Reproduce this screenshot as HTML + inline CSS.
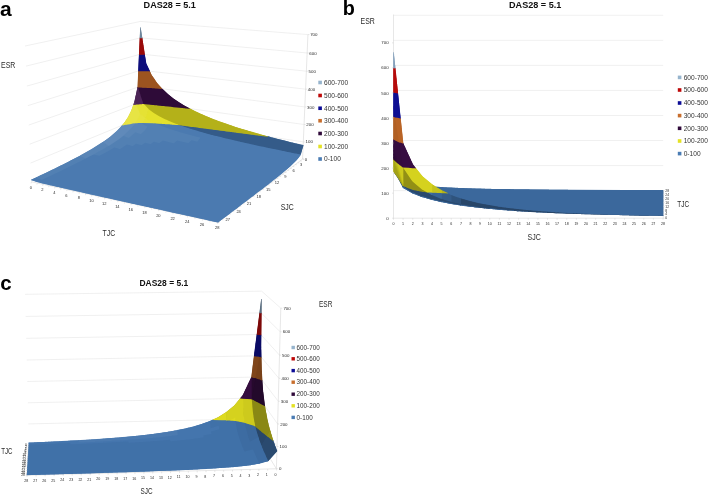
<!DOCTYPE html>
<html><head><meta charset="utf-8"><title>DAS28 = 5.1</title>
<style>html,body{margin:0;padding:0;background:#fff}svg{display:block;font-family:"Liberation Sans",sans-serif}</style>
</head><body><svg width="709" height="495" viewBox="0 0 709 495">
<rect width="709" height="495" fill="#fff"/>
<line x1="30.54" y1="163.08" x2="141.34" y2="117.40" stroke="#e0e0e0" stroke-width="0.5" />
<line x1="141.34" y1="117.40" x2="303.32" y2="141.89" stroke="#e0e0e0" stroke-width="0.5" />
<line x1="29.64" y1="144.19" x2="141.17" y2="101.82" stroke="#e0e0e0" stroke-width="0.5" />
<line x1="141.17" y1="101.82" x2="304.07" y2="124.52" stroke="#e0e0e0" stroke-width="0.5" />
<line x1="28.73" y1="125.06" x2="141.01" y2="86.07" stroke="#e0e0e0" stroke-width="0.5" />
<line x1="141.01" y1="86.07" x2="304.83" y2="106.95" stroke="#e0e0e0" stroke-width="0.5" />
<line x1="27.81" y1="105.68" x2="140.84" y2="70.16" stroke="#e0e0e0" stroke-width="0.5" />
<line x1="140.84" y1="70.16" x2="305.59" y2="89.17" stroke="#e0e0e0" stroke-width="0.5" />
<line x1="26.87" y1="86.05" x2="140.68" y2="54.09" stroke="#e0e0e0" stroke-width="0.5" />
<line x1="140.68" y1="54.09" x2="306.37" y2="71.19" stroke="#e0e0e0" stroke-width="0.5" />
<line x1="25.93" y1="66.17" x2="140.51" y2="37.84" stroke="#e0e0e0" stroke-width="0.5" />
<line x1="140.51" y1="37.84" x2="307.16" y2="52.99" stroke="#e0e0e0" stroke-width="0.5" />
<line x1="24.97" y1="46.03" x2="140.33" y2="21.43" stroke="#e0e0e0" stroke-width="0.5" />
<line x1="140.33" y1="21.43" x2="307.95" y2="34.58" stroke="#e0e0e0" stroke-width="0.5" />
<line x1="302.57" y1="159.07" x2="307.95" y2="34.58" stroke="#cfcfcf" stroke-width="0.5" />
<line x1="31.43" y1="181.74" x2="217.88" y2="222.42" stroke="#cfcfcf" stroke-width="0.5" />
<line x1="217.88" y1="222.42" x2="302.57" y2="159.07" stroke="#cfcfcf" stroke-width="0.5" />
<line x1="31.43" y1="181.74" x2="31.13" y2="183.34" stroke="#cfcfcf" stroke-width="0.5" />
<line x1="37.23" y1="183.00" x2="36.93" y2="184.60" stroke="#cfcfcf" stroke-width="0.5" />
<line x1="43.08" y1="184.28" x2="42.78" y2="185.88" stroke="#cfcfcf" stroke-width="0.5" />
<line x1="48.99" y1="185.57" x2="48.69" y2="187.17" stroke="#cfcfcf" stroke-width="0.5" />
<line x1="54.95" y1="186.87" x2="54.65" y2="188.47" stroke="#cfcfcf" stroke-width="0.5" />
<line x1="60.98" y1="188.19" x2="60.68" y2="189.79" stroke="#cfcfcf" stroke-width="0.5" />
<line x1="67.06" y1="189.51" x2="66.76" y2="191.11" stroke="#cfcfcf" stroke-width="0.5" />
<line x1="73.21" y1="190.85" x2="72.91" y2="192.45" stroke="#cfcfcf" stroke-width="0.5" />
<line x1="79.41" y1="192.21" x2="79.11" y2="193.81" stroke="#cfcfcf" stroke-width="0.5" />
<line x1="85.68" y1="193.58" x2="85.38" y2="195.18" stroke="#cfcfcf" stroke-width="0.5" />
<line x1="92.01" y1="194.96" x2="91.71" y2="196.56" stroke="#cfcfcf" stroke-width="0.5" />
<line x1="98.40" y1="196.35" x2="98.10" y2="197.95" stroke="#cfcfcf" stroke-width="0.5" />
<line x1="104.86" y1="197.76" x2="104.56" y2="199.36" stroke="#cfcfcf" stroke-width="0.5" />
<line x1="111.38" y1="199.19" x2="111.08" y2="200.79" stroke="#cfcfcf" stroke-width="0.5" />
<line x1="117.97" y1="200.62" x2="117.67" y2="202.22" stroke="#cfcfcf" stroke-width="0.5" />
<line x1="124.63" y1="202.08" x2="124.33" y2="203.68" stroke="#cfcfcf" stroke-width="0.5" />
<line x1="131.36" y1="203.55" x2="131.06" y2="205.15" stroke="#cfcfcf" stroke-width="0.5" />
<line x1="138.16" y1="205.03" x2="137.86" y2="206.63" stroke="#cfcfcf" stroke-width="0.5" />
<line x1="145.03" y1="206.53" x2="144.73" y2="208.13" stroke="#cfcfcf" stroke-width="0.5" />
<line x1="151.97" y1="208.04" x2="151.67" y2="209.64" stroke="#cfcfcf" stroke-width="0.5" />
<line x1="158.98" y1="209.57" x2="158.68" y2="211.17" stroke="#cfcfcf" stroke-width="0.5" />
<line x1="166.07" y1="211.12" x2="165.77" y2="212.72" stroke="#cfcfcf" stroke-width="0.5" />
<line x1="173.23" y1="212.68" x2="172.93" y2="214.28" stroke="#cfcfcf" stroke-width="0.5" />
<line x1="180.47" y1="214.26" x2="180.17" y2="215.86" stroke="#cfcfcf" stroke-width="0.5" />
<line x1="187.79" y1="215.86" x2="187.49" y2="217.46" stroke="#cfcfcf" stroke-width="0.5" />
<line x1="195.19" y1="217.47" x2="194.89" y2="219.07" stroke="#cfcfcf" stroke-width="0.5" />
<line x1="202.67" y1="219.11" x2="202.37" y2="220.71" stroke="#cfcfcf" stroke-width="0.5" />
<line x1="210.23" y1="220.76" x2="209.93" y2="222.36" stroke="#cfcfcf" stroke-width="0.5" />
<line x1="217.88" y1="222.42" x2="217.58" y2="224.02" stroke="#cfcfcf" stroke-width="0.5" />
<line x1="302.57" y1="159.07" x2="304.17" y2="159.27" stroke="#cfcfcf" stroke-width="0.5" />
<line x1="300.16" y1="160.87" x2="301.76" y2="161.07" stroke="#cfcfcf" stroke-width="0.5" />
<line x1="297.71" y1="162.70" x2="299.31" y2="162.90" stroke="#cfcfcf" stroke-width="0.5" />
<line x1="295.23" y1="164.56" x2="296.83" y2="164.76" stroke="#cfcfcf" stroke-width="0.5" />
<line x1="292.70" y1="166.45" x2="294.30" y2="166.65" stroke="#cfcfcf" stroke-width="0.5" />
<line x1="290.14" y1="168.37" x2="291.74" y2="168.57" stroke="#cfcfcf" stroke-width="0.5" />
<line x1="287.53" y1="170.32" x2="289.13" y2="170.52" stroke="#cfcfcf" stroke-width="0.5" />
<line x1="284.89" y1="172.30" x2="286.49" y2="172.50" stroke="#cfcfcf" stroke-width="0.5" />
<line x1="282.20" y1="174.31" x2="283.80" y2="174.51" stroke="#cfcfcf" stroke-width="0.5" />
<line x1="279.47" y1="176.35" x2="281.07" y2="176.55" stroke="#cfcfcf" stroke-width="0.5" />
<line x1="276.70" y1="178.42" x2="278.30" y2="178.62" stroke="#cfcfcf" stroke-width="0.5" />
<line x1="273.88" y1="180.53" x2="275.48" y2="180.73" stroke="#cfcfcf" stroke-width="0.5" />
<line x1="271.02" y1="182.67" x2="272.62" y2="182.87" stroke="#cfcfcf" stroke-width="0.5" />
<line x1="268.11" y1="184.85" x2="269.71" y2="185.05" stroke="#cfcfcf" stroke-width="0.5" />
<line x1="265.15" y1="187.06" x2="266.75" y2="187.26" stroke="#cfcfcf" stroke-width="0.5" />
<line x1="262.14" y1="189.31" x2="263.74" y2="189.51" stroke="#cfcfcf" stroke-width="0.5" />
<line x1="259.08" y1="191.60" x2="260.68" y2="191.80" stroke="#cfcfcf" stroke-width="0.5" />
<line x1="255.97" y1="193.93" x2="257.57" y2="194.13" stroke="#cfcfcf" stroke-width="0.5" />
<line x1="252.80" y1="196.30" x2="254.40" y2="196.50" stroke="#cfcfcf" stroke-width="0.5" />
<line x1="249.58" y1="198.71" x2="251.18" y2="198.91" stroke="#cfcfcf" stroke-width="0.5" />
<line x1="246.30" y1="201.16" x2="247.90" y2="201.36" stroke="#cfcfcf" stroke-width="0.5" />
<line x1="242.97" y1="203.65" x2="244.57" y2="203.85" stroke="#cfcfcf" stroke-width="0.5" />
<line x1="239.58" y1="206.19" x2="241.18" y2="206.39" stroke="#cfcfcf" stroke-width="0.5" />
<line x1="236.12" y1="208.78" x2="237.72" y2="208.98" stroke="#cfcfcf" stroke-width="0.5" />
<line x1="232.61" y1="211.41" x2="234.21" y2="211.61" stroke="#cfcfcf" stroke-width="0.5" />
<line x1="229.02" y1="214.09" x2="230.62" y2="214.29" stroke="#cfcfcf" stroke-width="0.5" />
<line x1="225.38" y1="216.81" x2="226.98" y2="217.01" stroke="#cfcfcf" stroke-width="0.5" />
<line x1="221.66" y1="219.59" x2="223.26" y2="219.79" stroke="#cfcfcf" stroke-width="0.5" />
<line x1="217.88" y1="222.42" x2="219.48" y2="222.62" stroke="#cfcfcf" stroke-width="0.5" />
<path fill="#4b7ab0" fill-rule="evenodd" d="M31.19 180.06L32.69 180.44L37.06 181.94L39.94 182.56L40.44 182.81L43.44 183.56L43.94 183.56L45.56 184.06L46.06 184.06L50.94 185.31L51.44 185.31L56.94 186.69L58.56 186.94L61.31 187.69L61.81 187.69L62.44 187.94L62.94 187.94L63.56 188.19L66.31 188.69L67.44 189.06L67.94 189.06L68.56 189.31L69.06 189.31L69.69 189.56L70.19 189.56L70.81 189.81L71.31 189.81L71.94 190.06L72.44 190.06L73.06 190.31L73.56 190.31L74.19 190.56L74.69 190.56L75.31 190.81L75.81 190.81L76.44 191.06L79.19 191.56L85.56 193.19L86.06 193.19L86.69 193.44L87.19 193.44L91.19 194.44L92.31 194.56L92.94 194.81L94.69 195.06L95.31 195.31L97.06 195.56L103.06 197.06L103.56 197.06L104.69 197.44L109.94 198.44L110.56 198.69L111.06 198.69L115.56 199.81L116.06 199.81L116.69 200.06L117.19 200.06L117.81 200.31L118.31 200.31L118.94 200.56L119.44 200.56L120.06 200.81L120.56 200.81L121.19 201.06L123.94 201.56L125.06 201.94L127.81 202.44L128.94 202.81L129.44 202.81L133.44 203.81L134.56 203.94L135.19 204.19L135.69 204.19L137.44 204.69L141.44 205.44L142.06 205.69L145.44 206.31L147.19 206.81L148.31 206.94L151.19 207.69L151.69 207.69L154.69 208.44L155.81 208.56L156.44 208.81L157.56 208.94L158.19 209.19L160.94 209.69L162.06 210.06L162.56 210.06L163.69 210.44L165.31 210.69L166.44 211.06L168.06 211.31L173.06 212.56L173.56 212.56L175.44 213.06L180.81 214.06L181.44 214.31L181.94 214.31L182.56 214.56L183.06 214.56L187.06 215.56L188.19 215.69L188.81 215.94L189.31 215.94L189.94 216.19L190.44 216.19L194.44 217.19L195.56 217.31L197.31 217.81L197.81 217.81L199.06 218.19L201.31 218.56L201.94 218.81L202.44 218.81L203.06 219.06L203.56 219.06L210.06 220.69L211.19 220.81L211.81 221.06L212.31 221.06L212.44 221.19L212.94 221.19L214.19 221.56L214.69 221.56L214.81 221.69L215.31 221.69L215.44 221.81L218.06 222.31L221.06 219.94L229.56 213.69L232.44 211.31L236.69 208.31L242.81 203.44L246.81 200.56L250.44 197.69L252.81 196.06L257.94 191.94L262.19 188.94L265.06 186.56L268.19 184.31L272.69 180.56L280.81 174.31L290.06 166.44L297.44 159.06L300.44 155.06L301.69 151.19L301.69 150.81L302.56 148.19L302.81 146.94L303.19 146.06L303.31 145.19L300.69 144.69L299.56 144.31L299.06 144.31L297.94 143.94L297.44 143.94L296.31 143.56L295.81 143.56L292.06 142.56L291.56 142.56L283.69 140.44L283.19 140.44L281.56 139.94L281.06 139.94L279.44 139.44L278.94 139.44L276.94 138.94L276.44 138.69L271.81 137.56L268.69 136.56L267.31 136.44L266.56 136.19L265.19 136.19L265.06 136.06L263.31 135.94L263.19 135.81L260.56 135.56L260.44 135.44L259.06 135.44L258.19 135.19L255.56 134.94L255.44 134.81L254.69 134.81L253.69 134.56L251.56 134.44L251.44 134.31L248.81 134.06L247.81 133.81L246.56 133.81L246.44 133.69L245.69 133.69L245.56 133.56L244.81 133.56L244.69 133.44L243.94 133.44L243.81 133.31L243.06 133.31L242.94 133.19L242.19 133.19L241.19 132.94L238.19 132.69L238.06 132.56L235.31 132.31L235.19 132.19L234.19 132.19L234.06 132.06L233.31 132.06L233.19 131.94L230.69 131.69L230.56 131.56L226.06 131.19L225.94 131.06L225.19 131.06L224.94 130.81L224.06 130.81L223.94 130.69L223.06 130.69L222.94 130.56L222.06 130.56L221.94 130.44L220.81 130.44L220.69 130.31L219.44 130.31L219.31 130.19L216.06 129.81L215.94 129.69L213.81 129.56L212.19 129.19L208.19 128.81L208.06 128.69L207.44 128.69L205.81 128.31L204.19 128.31L202.56 127.94L199.69 127.69L198.19 127.31L197.19 127.31L197.06 127.19L194.44 126.94L193.44 126.69L191.69 126.69L191.56 126.56L190.81 126.56L190.69 126.44L189.94 126.44L189.81 126.31L189.06 126.31L188.94 126.19L182.94 125.44L182.06 125.19L180.94 125.19L180.81 125.06L177.81 124.81L177.69 124.69L175.69 124.69L175.56 124.56L174.19 124.56L174.06 124.44L170.69 124.31L170.56 124.19L168.81 124.06L168.69 123.94L165.56 123.94L165.44 123.81L160.81 123.56L160.69 123.44L159.06 123.44L158.94 123.31L157.31 123.31L157.19 123.19L154.06 123.06L153.94 122.94L137.31 122.81L137.19 122.94L133.94 123.06L133.81 123.19L133.06 123.19L132.94 123.31L130.94 123.56L129.69 123.94L127.56 124.19L126.81 124.44L125.06 124.56L124.94 124.69L122.31 125.19L120.19 127.69L117.06 130.94L110.31 136.81L104.19 141.31L92.56 148.69L80.31 155.69L70.69 160.56L68.31 161.94L61.06 165.56L60.81 165.56L53.31 169.44L53.06 169.44L51.19 170.44L50.94 170.44L44.69 173.56L44.44 173.56L43.06 174.31L41.19 175.06L35.19 178.06L34.94 178.06L33.56 178.81L31.19 179.81Z"/>
<path fill="#b4b119" fill-rule="evenodd" d="M122.44 125.06L122.44 125.31L125.31 124.69L126.31 124.69L127.81 124.31L129.94 124.06L132.44 123.44L135.06 123.19L135.19 123.06L137.44 123.06L137.56 122.94L153.69 123.06L153.81 123.19L155.56 123.19L155.69 123.31L156.94 123.31L157.06 123.44L162.19 123.69L162.31 123.81L163.69 123.81L163.81 123.94L165.19 123.94L165.31 124.06L168.44 124.06L168.56 124.19L169.44 124.19L170.44 124.44L173.81 124.56L173.94 124.69L175.31 124.69L175.44 124.81L177.44 124.81L177.56 124.94L178.69 124.94L178.81 125.06L180.56 125.19L180.69 125.31L181.81 125.31L182.69 125.56L183.44 125.56L183.56 125.69L184.31 125.69L185.19 125.94L186.94 126.06L187.06 126.19L187.81 126.19L187.94 126.31L188.69 126.31L188.81 126.44L189.56 126.44L189.69 126.56L190.44 126.56L191.44 126.81L193.19 126.81L193.31 126.94L195.06 127.06L195.19 127.19L195.94 127.19L196.94 127.44L197.94 127.44L199.44 127.81L202.31 128.06L203.94 128.44L205.56 128.44L205.69 128.56L206.31 128.56L207.94 128.94L211.94 129.31L213.56 129.69L215.69 129.81L215.81 129.94L218.31 130.19L219.19 130.44L220.44 130.44L220.56 130.56L221.69 130.56L221.81 130.69L224.69 130.94L224.94 131.19L225.69 131.19L225.81 131.31L230.31 131.69L230.44 131.81L231.31 131.81L231.44 131.94L232.19 131.94L232.31 132.06L233.81 132.19L233.94 132.31L234.94 132.31L235.06 132.44L236.06 132.44L236.19 132.56L236.94 132.56L237.94 132.81L240.94 133.06L241.06 133.19L241.81 133.19L241.94 133.31L242.69 133.31L242.81 133.44L243.56 133.44L243.69 133.56L244.44 133.56L244.56 133.69L245.31 133.69L246.31 133.94L247.56 133.94L247.69 134.06L249.44 134.19L249.56 134.31L250.31 134.31L251.31 134.56L252.44 134.56L252.56 134.69L253.44 134.69L253.56 134.81L254.31 134.81L255.31 135.06L257.94 135.31L258.81 135.56L260.19 135.56L260.31 135.69L261.19 135.69L261.31 135.81L263.94 136.06L264.94 136.31L266.31 136.31L267.06 136.56L267.81 136.56L267.81 136.31L265.06 135.81L264.56 135.56L264.19 135.56L263.69 135.31L259.81 134.31L258.94 133.94L256.81 133.44L255.94 133.06L253.81 132.56L252.94 132.19L250.81 131.69L249.94 131.31L247.81 130.81L246.94 130.44L244.81 129.94L243.94 129.56L241.81 129.06L240.56 128.56L240.19 128.56L238.56 127.94L238.19 127.94L232.44 126.06L232.06 125.81L228.06 124.56L227.69 124.31L217.69 120.94L215.44 119.94L214.81 119.81L210.44 118.06L208.31 117.06L206.81 116.56L201.44 114.19L201.19 114.19L196.31 111.81L196.06 111.81L189.56 108.44L188.19 108.44L188.06 108.31L186.94 108.31L186.81 108.19L184.31 108.06L182.81 107.69L173.81 106.94L173.69 106.81L170.94 106.56L170.81 106.44L169.69 106.44L169.56 106.31L168.69 106.31L168.56 106.19L167.44 106.19L167.31 106.06L166.19 106.06L166.06 105.94L164.94 105.94L164.81 105.81L163.06 105.81L162.94 105.69L161.81 105.69L161.69 105.56L160.44 105.56L160.31 105.44L158.44 105.31L158.31 105.19L156.56 105.06L156.44 104.94L153.31 104.81L153.19 104.69L152.19 104.69L152.06 104.56L151.19 104.56L151.06 104.44L148.31 104.31L148.19 104.19L144.56 103.94L144.44 103.81L143.44 103.81L143.31 103.69L142.94 103.81L141.69 103.81L141.56 103.94L140.44 103.94L140.31 104.06L139.06 104.06L138.94 104.19L135.69 104.31L134.69 104.56L133.69 104.56L133.44 104.81L131.31 110.69L128.06 117.19L124.69 122.31Z"/>
<path fill="#2e0b38" fill-rule="evenodd" d="M137.56 87.31L137.19 89.44L136.81 90.69L136.81 91.19L136.56 91.81L136.44 92.94L136.19 93.56L136.06 94.69L135.56 96.44L135.44 97.56L135.19 98.19L135.06 99.31L134.81 99.94L134.69 101.06L133.56 104.44L133.56 104.81L135.81 104.56L135.94 104.44L139.19 104.31L139.31 104.19L140.56 104.19L140.69 104.06L141.81 104.06L141.94 103.94L144.19 103.94L144.31 104.06L145.44 104.06L145.56 104.19L146.69 104.19L146.81 104.31L147.94 104.31L148.06 104.44L150.81 104.56L150.94 104.69L152.94 104.81L153.06 104.94L156.19 105.06L156.31 105.19L157.19 105.19L157.31 105.31L160.06 105.56L160.19 105.69L161.44 105.69L161.56 105.81L162.69 105.81L162.81 105.94L164.56 105.94L164.69 106.06L168.31 106.31L168.44 106.44L171.69 106.69L171.81 106.81L172.56 106.81L173.56 107.06L182.56 107.81L184.06 108.19L186.56 108.31L186.69 108.44L187.81 108.44L187.94 108.56L189.44 108.69L189.44 108.44L183.94 105.44L179.06 102.44L173.31 98.56L168.06 94.31L163.31 89.81L161.81 88.56L158.81 88.44L158.69 88.31L156.44 88.31L156.31 88.19L152.31 87.94L152.19 87.81L150.44 87.81L150.31 87.69L147.31 87.69L147.19 87.56L145.94 87.56L145.81 87.44L142.56 87.44L142.44 87.31L140.31 87.31L140.19 87.19L137.69 87.19Z"/>
<path fill="#9c5420" fill-rule="evenodd" d="M138.31 70.94L137.69 87.31L139.94 87.31L140.06 87.44L142.19 87.44L142.31 87.56L145.56 87.56L145.69 87.69L146.94 87.69L147.06 87.81L150.06 87.81L150.19 87.94L151.94 87.94L152.06 88.06L153.44 88.06L153.56 88.19L154.81 88.19L154.94 88.31L156.06 88.31L156.19 88.44L158.44 88.44L158.56 88.56L160.06 88.56L160.19 88.69L161.56 88.69L161.94 88.81L161.94 88.56L157.44 83.56L155.94 81.56L154.44 79.19L151.69 75.31L150.56 73.06L150.56 72.81L149.56 71.06Z"/>
<path fill="#0d0d7c" fill-rule="evenodd" d="M139.06 54.56L138.31 71.06L146.19 71.06L146.31 71.19L149.31 71.19L149.69 71.31L149.69 70.94L146.19 63.56L144.69 54.44Z"/>
<path fill="#990a0a" fill-rule="evenodd" d="M139.81 37.94L139.06 54.69L144.69 54.56L144.31 51.44L144.19 51.31L144.06 49.81L143.94 49.69L143.81 48.19L143.69 48.06L143.69 47.31L143.56 47.19L143.44 45.69L143.19 44.81L143.06 43.19L142.94 43.06L142.81 41.56L142.56 40.69L142.31 38.31L142.19 37.94Z"/>
<path fill="#6f879d" fill-rule="evenodd" d="M140.31 27.44L139.81 38.06L142.19 38.06L140.56 27.44Z"/>
<path fill="#345b89" fill-rule="evenodd" d="M178.19 124.69L178.19 125.19L186.94 128.31L187.31 128.31L192.19 129.94L192.56 129.94L193.06 130.19L196.94 131.19L197.81 131.56L198.19 131.56L198.69 131.81L199.06 131.81L199.56 132.06L199.94 132.06L200.44 132.31L200.81 132.31L201.31 132.56L201.69 132.56L202.19 132.81L202.56 132.81L208.31 134.56L209.69 134.81L210.19 135.06L212.56 135.56L213.06 135.81L215.56 136.44L216.06 136.44L218.69 137.19L219.19 137.19L222.69 138.06L223.19 138.31L226.69 139.19L227.19 139.19L228.81 139.69L229.31 139.69L230.94 140.19L231.44 140.19L232.56 140.56L233.06 140.56L234.19 140.94L235.81 141.19L236.94 141.56L237.44 141.56L238.56 141.94L239.06 141.94L240.19 142.31L241.81 142.56L242.94 142.94L243.44 142.94L244.56 143.31L245.06 143.31L246.19 143.69L247.81 143.94L248.94 144.31L249.44 144.31L250.56 144.69L251.06 144.69L251.69 144.94L252.19 144.94L256.19 145.94L262.81 147.19L263.44 147.44L263.94 147.44L267.94 148.44L268.44 148.44L268.56 148.56L269.06 148.56L269.19 148.69L269.69 148.69L269.81 148.81L270.31 148.81L270.44 148.94L270.94 148.94L271.06 149.06L281.56 151.06L282.19 151.31L283.31 151.44L286.81 152.31L287.31 152.31L290.56 153.06L291.19 153.06L291.31 153.19L291.81 153.19L295.06 153.94L295.69 153.94L298.31 154.56L298.94 154.56L299.69 154.81L300.69 154.81L300.81 154.69L300.81 154.31L301.19 153.44L301.44 152.19L301.81 151.31L302.31 149.19L303.44 145.69L303.44 145.06L300.81 144.56L299.69 144.19L299.19 144.19L298.06 143.81L297.56 143.81L296.44 143.44L295.94 143.44L292.19 142.44L291.69 142.44L283.81 140.31L283.31 140.31L281.69 139.81L277.06 138.81L276.56 138.56L275.19 138.31L274.69 138.06L273.31 137.81L272.81 137.56L271.94 137.44L268.31 136.31L267.44 136.31L266.69 136.06L265.31 136.06L265.19 135.94L263.44 135.81L263.31 135.69L260.69 135.44L260.56 135.31L259.19 135.31L258.31 135.06L255.69 134.81L255.56 134.69L254.81 134.69L253.81 134.44L251.69 134.31L251.56 134.19L248.94 133.94L247.94 133.69L246.69 133.69L246.56 133.56L245.81 133.56L245.69 133.44L244.94 133.44L244.81 133.31L244.06 133.31L243.94 133.19L243.19 133.19L243.06 133.06L242.31 133.06L241.31 132.81L238.31 132.56L238.19 132.44L235.44 132.19L235.31 132.06L234.31 132.06L234.19 131.94L233.44 131.94L233.31 131.81L230.81 131.56L230.69 131.44L226.19 131.06L226.06 130.94L225.31 130.94L225.06 130.69L224.19 130.69L224.06 130.56L223.19 130.56L223.06 130.44L222.19 130.44L222.06 130.31L220.94 130.31L220.81 130.19L219.56 130.19L219.44 130.06L216.19 129.69L216.06 129.56L213.94 129.44L212.31 129.06L208.31 128.69L208.19 128.56L207.56 128.56L205.94 128.19L204.31 128.19L202.69 127.81L199.81 127.56L198.31 127.19L197.31 127.19L197.19 127.06L194.56 126.81L193.56 126.56L191.81 126.56L191.69 126.44L190.94 126.44L190.81 126.31L190.06 126.31L189.94 126.19L189.19 126.19L189.06 126.06L183.06 125.31L182.19 125.06L181.06 125.06L180.94 124.94L180.06 124.94L179.06 124.69Z"/>
<path fill="#4b7ab0" fill-rule="evenodd" d="M31.06 180.19L32.56 180.56L36.94 182.06L39.81 182.69L40.31 182.94L43.31 183.69L43.81 183.69L45.44 184.19L45.94 184.19L50.81 185.44L51.31 185.44L56.81 186.81L58.44 187.06L61.19 187.81L61.69 187.81L62.31 188.06L62.81 188.06L63.44 188.31L66.19 188.81L67.31 189.19L67.81 189.19L68.44 189.44L68.94 189.44L69.56 189.69L70.06 189.69L70.69 189.94L71.19 189.94L71.81 190.19L72.31 190.19L72.94 190.44L73.44 190.44L74.06 190.69L74.56 190.69L75.19 190.94L75.69 190.94L76.31 191.19L79.06 191.69L85.44 193.31L85.94 193.31L86.56 193.56L87.06 193.56L91.06 194.56L92.19 194.69L92.81 194.94L94.56 195.19L95.19 195.44L96.94 195.69L102.94 197.19L103.44 197.19L104.56 197.56L109.81 198.56L110.44 198.81L110.94 198.81L115.44 199.94L115.94 199.94L116.56 200.19L117.06 200.19L117.69 200.44L118.19 200.44L118.81 200.69L119.31 200.69L119.94 200.94L120.44 200.94L121.06 201.19L123.81 201.69L124.94 202.06L127.69 202.56L128.81 202.94L129.31 202.94L133.31 203.94L134.44 204.06L135.06 204.31L135.56 204.31L137.31 204.81L141.31 205.56L141.94 205.81L145.31 206.44L147.06 206.94L148.19 207.06L151.06 207.81L151.56 207.81L154.56 208.56L155.69 208.69L156.31 208.94L157.44 209.06L158.06 209.31L160.81 209.81L161.94 210.19L162.44 210.19L163.56 210.56L165.19 210.81L166.31 211.19L167.94 211.44L172.94 212.69L173.44 212.69L175.31 213.19L180.69 214.19L181.31 214.44L181.81 214.44L182.44 214.69L182.94 214.69L186.94 215.69L188.06 215.81L188.69 216.06L189.19 216.06L189.81 216.31L190.31 216.31L194.31 217.31L194.81 217.31L197.19 217.94L200.06 218.44L200.69 218.69L203.44 219.19L209.94 220.81L210.44 220.81L211.69 221.19L213.44 221.44L214.06 221.69L215.81 221.94L216.44 222.19L218.19 222.44L221.19 220.06L229.69 213.81L232.56 211.44L236.81 208.44L242.94 203.56L246.94 200.69L250.56 197.81L252.94 196.19L258.06 192.06L262.81 188.69L265.19 186.69L268.31 184.44L272.81 180.69L276.19 178.19L282.31 173.31L290.19 166.56L296.19 160.69L298.69 157.81L300.56 155.19L300.69 154.44L298.81 154.19L296.19 153.56L295.56 153.56L295.44 153.44L294.94 153.44L291.69 152.69L291.06 152.69L290.94 152.56L287.31 151.94L286.69 151.69L285.56 151.56L284.94 151.31L284.44 151.31L283.81 151.06L282.69 150.94L282.06 150.69L281.56 150.69L281.44 150.56L280.94 150.56L280.81 150.44L280.31 150.44L280.19 150.31L279.69 150.31L279.56 150.19L279.06 150.19L278.94 150.06L268.44 148.06L267.81 147.81L267.31 147.81L263.31 146.81L259.69 146.19L259.06 145.94L256.69 145.56L256.06 145.31L255.56 145.31L254.94 145.06L254.44 145.06L253.81 144.81L251.06 144.31L248.31 143.56L246.69 143.31L245.56 142.94L245.06 142.94L243.94 142.56L243.44 142.56L242.31 142.19L240.69 141.94L239.56 141.56L239.06 141.56L237.94 141.19L237.44 141.19L236.31 140.81L235.81 140.81L229.81 139.31L229.31 139.31L227.69 138.81L227.19 138.81L223.69 137.94L223.19 137.69L219.69 136.81L219.19 136.81L216.56 136.06L216.06 136.06L213.56 135.44L213.06 135.19L210.69 134.69L210.19 134.44L208.81 134.19L208.31 133.94L207.94 133.94L207.44 133.69L207.06 133.69L206.56 133.44L206.19 133.44L205.69 133.19L205.31 133.19L204.81 132.94L204.44 132.94L203.94 132.69L203.56 132.69L203.06 132.44L202.69 132.44L202.19 132.19L198.31 131.19L197.44 130.81L197.06 130.81L196.56 130.56L192.69 129.56L191.44 129.06L191.06 129.06L184.06 126.81L183.69 126.56L180.81 125.69L178.56 124.69L174.31 124.44L174.19 124.31L172.56 124.31L172.44 124.19L170.81 124.19L170.69 124.06L168.94 123.94L168.81 123.81L165.69 123.81L165.56 123.69L164.19 123.69L164.06 123.56L162.69 123.56L162.56 123.44L157.44 123.19L157.31 123.06L156.06 123.06L155.94 122.94L154.19 122.94L154.19 123.44L158.44 125.31L159.31 125.56L159.94 125.94L172.44 130.44L173.69 130.69L174.56 131.06L174.94 131.06L175.81 131.44L177.06 131.69L177.94 132.06L178.31 132.06L184.06 133.81L185.44 134.06L185.94 134.31L187.31 134.56L187.81 134.81L189.19 135.06L189.69 135.31L191.06 135.56L191.56 135.81L192.94 136.06L193.44 136.31L199.44 137.81L199.56 138.06L197.06 140.94L195.94 140.81L193.31 140.06L191.19 139.69L188.06 142.69L187.44 142.44L186.94 142.44L186.31 142.19L183.56 141.69L180.44 140.81L179.94 140.81L177.31 140.06L176.81 140.06L173.94 142.56L173.19 142.69L162.94 140.06L162.44 140.06L159.31 142.56L158.69 142.56L154.06 141.31L153.56 141.31L150.44 143.56L149.81 143.56L145.19 142.31L144.69 142.31L141.44 144.56L140.81 144.56L136.19 143.31L135.69 143.31L132.31 145.56L131.81 145.31L130.94 145.19L127.69 144.19L126.69 144.06L119.69 148.56L119.19 148.31L118.31 148.19L115.06 147.19L114.06 147.06L105.81 151.81L98.94 155.44L98.44 155.19L97.56 155.06L94.31 154.06L93.31 153.94L88.31 156.44L88.06 156.69L84.31 158.56L82.19 159.81L79.19 161.31L78.94 161.31L66.56 167.56L66.31 167.56L54.94 173.19L54.69 173.19L51.69 174.69L51.44 174.69L47.06 176.81L46.81 176.81L42.06 179.19L41.56 179.19L36.44 177.44L35.94 177.44L31.06 179.69Z"/>
<path fill="#5280b3" fill-rule="evenodd" d="M85.69 158.06L80.31 155.69L79.81 155.69L70.56 160.44L68.19 161.81L60.94 165.44L60.69 165.44L53.19 169.31L52.94 169.31L44.56 173.44L44.31 173.44L42.94 174.19L41.06 174.94L36.06 177.44L36.06 177.94L38.69 178.81L39.06 178.81L41.44 179.69L42.31 179.69L47.31 177.19L47.56 177.19L50.56 175.69L50.81 175.69L55.19 173.56L55.44 173.56L58.06 172.19L58.31 172.19L79.44 161.69L79.69 161.69L85.69 158.56ZM93.44 154.44L97.94 155.56L98.44 155.81L99.44 155.81L106.31 152.19L114.31 147.56L117.31 148.31L117.81 148.56L118.69 148.69L119.19 148.94L120.19 148.94L126.94 144.56L129.94 145.31L130.44 145.56L131.31 145.69L131.81 145.94L132.81 145.94L135.94 143.81L140.81 145.06L141.69 145.06L145.06 142.81L149.81 144.06L150.69 144.06L153.94 141.81L158.69 143.06L159.56 143.06L162.81 140.56L173.19 143.19L174.06 143.19L177.19 140.56L183.06 142.06L183.56 142.06L184.19 142.31L186.94 142.81L187.56 143.06L188.56 143.06L191.56 140.19L196.56 141.44L197.44 141.44L200.31 138.06L200.31 137.56L195.81 136.44L195.31 136.19L193.94 135.94L193.44 135.69L192.06 135.44L191.56 135.19L190.19 134.94L189.69 134.69L188.31 134.44L187.81 134.19L186.44 133.94L185.94 133.69L184.56 133.44L184.06 133.19L183.69 133.19L183.19 132.94L182.81 132.94L182.31 132.69L178.44 131.69L177.56 131.31L176.31 131.06L175.44 130.69L175.06 130.69L174.19 130.31L172.94 130.06L171.06 129.31L168.56 128.56L168.19 128.31L166.44 127.81L163.31 126.56L162.31 126.31L158.31 124.56L158.06 124.56L157.44 124.19L156.56 123.94L154.56 122.94L154.06 122.81L142.44 122.69L141.94 123.56L141.94 124.31L146.56 126.56L146.81 126.81L144.06 130.19L140.56 133.56L136.31 132.06L135.94 131.81L135.06 131.69L132.19 134.31L128.44 137.44L123.44 135.31L122.94 135.31L119.19 138.31L108.69 145.31L104.56 147.56L100.31 150.19L93.94 153.56L93.44 153.94Z"/>
<path fill="#5985b6" fill-rule="evenodd" d="M108.94 145.31L103.81 141.94L103.06 141.81L91.19 149.31L80.44 155.31L79.94 155.69L79.94 156.19L82.19 157.06L84.81 158.31L85.94 158.44L88.56 157.06L88.81 156.81L94.19 154.19L98.31 151.81L100.81 150.56L105.06 147.94L108.94 145.81ZM147.44 126.44L142.69 124.06L142.44 123.81L142.81 123.19L142.81 122.69L134.81 122.81L134.56 122.94L132.81 125.56L130.19 128.56L125.69 132.94L123.06 135.19L123.06 135.81L127.81 137.81L128.81 137.94L135.44 132.19L135.81 132.44L138.81 133.44L140.19 134.06L140.94 134.06L144.44 130.69L147.44 126.94Z"/>
<path fill="#608aba" fill-rule="evenodd" d="M134.94 122.94L133.81 122.94L133.69 123.06L132.06 123.19L129.56 123.81L127.44 124.06L125.94 124.44L124.94 124.44L124.81 124.56L122.19 125.06L120.06 127.56L116.94 130.81L110.19 136.69L106.56 139.44L103.19 141.69L103.19 142.31L108.44 145.69L109.19 145.69L119.69 138.69L123.94 135.31L130.56 129.06L133.69 125.44L134.94 123.56Z"/>
<path fill="#b4b119" fill-rule="evenodd" d="M143.19 103.69L143.19 104.19L148.44 109.81L154.06 113.94L156.56 115.31L158.69 116.69L164.56 119.69L164.81 119.69L172.44 123.06L173.31 123.31L173.94 123.69L177.81 125.06L180.44 125.31L180.56 125.44L181.69 125.44L182.56 125.69L183.31 125.69L183.44 125.81L184.19 125.81L185.06 126.06L186.81 126.19L186.94 126.31L187.69 126.31L187.81 126.44L188.56 126.44L188.69 126.56L189.44 126.56L189.56 126.69L190.31 126.69L191.31 126.94L193.06 126.94L193.19 127.06L194.94 127.19L195.06 127.31L195.81 127.31L196.81 127.56L197.81 127.56L199.31 127.94L202.19 128.19L203.81 128.56L205.44 128.56L205.56 128.69L206.19 128.69L207.81 129.06L211.81 129.44L213.44 129.81L215.56 129.94L215.69 130.06L218.19 130.31L219.06 130.56L220.31 130.56L220.44 130.69L221.56 130.69L221.69 130.81L224.56 131.06L224.81 131.31L225.56 131.31L225.69 131.44L230.19 131.81L230.31 131.94L231.19 131.94L231.31 132.06L232.06 132.06L232.19 132.19L233.69 132.31L233.81 132.44L234.81 132.44L234.94 132.56L235.94 132.56L236.06 132.69L236.81 132.69L237.81 132.94L240.81 133.19L240.94 133.31L241.69 133.31L241.81 133.44L242.56 133.44L242.69 133.56L243.44 133.56L243.56 133.69L244.31 133.69L244.44 133.81L245.19 133.81L246.19 134.06L247.44 134.06L247.56 134.19L249.31 134.31L249.44 134.44L250.19 134.44L251.19 134.69L253.31 134.81L253.44 134.94L254.19 134.94L255.19 135.19L257.81 135.44L258.69 135.69L260.06 135.69L260.19 135.81L261.06 135.81L261.19 135.94L263.81 136.19L264.81 136.44L266.19 136.44L266.94 136.69L267.94 136.69L267.94 136.19L265.19 135.69L264.69 135.44L264.31 135.44L263.81 135.19L259.94 134.19L259.06 133.81L256.94 133.31L256.06 132.94L253.94 132.44L253.06 132.06L250.94 131.56L250.06 131.19L247.94 130.69L247.06 130.31L244.94 129.81L244.06 129.44L241.94 128.94L236.69 127.19L236.31 127.19L217.81 120.81L215.56 119.81L214.94 119.69L210.56 117.94L208.44 116.94L206.94 116.44L201.56 114.06L201.31 114.06L196.44 111.69L196.19 111.69L189.69 108.31L188.31 108.31L188.19 108.19L187.06 108.19L186.94 108.06L184.44 107.94L182.94 107.56L173.94 106.81L173.81 106.69L173.06 106.69L172.06 106.44L169.81 106.31L169.69 106.19L165.06 105.81L164.94 105.69L163.19 105.69L163.06 105.56L161.94 105.56L161.81 105.44L160.56 105.44L160.44 105.31L158.56 105.19L158.44 105.06L156.69 104.94L156.56 104.81L154.81 104.81L154.69 104.69L153.44 104.69L153.31 104.56L152.31 104.56L152.19 104.44L150.19 104.31L150.06 104.19L148.44 104.19L148.31 104.06L147.19 104.06L147.06 103.94L145.94 103.94L145.81 103.81L144.69 103.81L144.56 103.69Z"/>
<path fill="#e4e12c" fill-rule="evenodd" d="M148.19 109.19L147.19 112.19L146.94 112.56L146.31 114.69L146.06 115.06L145.56 116.81L145.31 117.19L145.06 117.94L145.06 118.44L150.19 121.56L153.94 123.31L155.44 123.31L155.56 123.44L160.31 123.69L160.44 123.81L162.06 123.81L162.19 123.94L163.56 123.94L163.69 124.06L165.06 124.06L165.19 124.19L168.31 124.19L168.44 124.31L169.31 124.31L170.31 124.56L171.94 124.56L172.06 124.69L173.69 124.69L173.81 124.81L178.19 125.06L178.19 124.56L175.69 123.81L171.44 121.94L169.69 121.31L169.06 120.94L168.81 120.94L168.19 120.56L167.94 120.56L167.06 120.06L165.06 119.31L159.19 116.31L153.81 113.06L148.69 109.19Z"/>
<path fill="#e5e234" fill-rule="evenodd" d="M135.56 104.19L135.56 104.81L136.06 105.69L136.06 105.94L136.56 106.81L136.94 107.94L137.44 108.81L137.44 109.06L137.94 109.94L137.94 110.19L139.81 114.31L144.81 118.31L144.69 118.81L142.44 122.56L142.44 123.06L153.56 123.19L153.69 123.31L154.31 123.31L154.31 122.81L150.69 121.19L145.56 118.06L145.94 117.31L146.44 115.56L146.69 115.19L148.06 110.94L148.31 110.56L148.56 109.81L148.56 109.06L143.44 103.56L140.31 103.81L140.19 103.94L138.94 103.94L138.81 104.06Z"/>
<path fill="#e6e33c" fill-rule="evenodd" d="M145.44 117.94L140.19 113.81L139.69 113.81L136.56 120.19L134.81 122.56L134.69 123.31L135.19 123.31L135.31 123.19L137.56 123.19L137.69 123.06L142.81 123.06L145.44 118.56Z"/>
<path fill="#e7e444" fill-rule="evenodd" d="M135.94 104.31L133.56 104.44L133.31 104.69L131.19 110.56L127.94 117.06L124.56 122.19L122.31 124.94L122.31 125.44L122.81 125.44L125.44 124.81L126.44 124.81L127.94 124.44L130.06 124.19L132.56 123.56L135.06 123.31L136.94 120.69L140.19 114.19L140.19 113.69L139.69 112.81L138.81 110.56Z"/>
<path fill="#2e0b38" fill-rule="evenodd" d="M137.44 87.19L137.44 87.69L137.69 88.06L142.81 103.81L143.06 104.06L147.81 104.44L147.94 104.56L149.56 104.56L149.69 104.69L150.69 104.69L150.81 104.81L152.81 104.94L152.94 105.06L154.19 105.06L154.31 105.19L156.06 105.19L156.19 105.31L157.06 105.31L157.19 105.44L159.94 105.69L160.06 105.81L161.31 105.81L161.44 105.94L162.56 105.94L162.69 106.06L164.44 106.06L164.56 106.19L168.19 106.44L168.31 106.56L171.56 106.81L171.69 106.94L172.44 106.94L173.44 107.19L182.44 107.94L183.94 108.31L185.06 108.31L185.19 108.44L186.44 108.44L186.56 108.56L189.56 108.81L189.56 108.31L183.44 104.94L182.81 104.44L179.19 102.31L173.44 98.44L168.19 94.19L163.44 89.69L161.94 88.44L158.94 88.31L158.81 88.19L156.56 88.19L156.44 88.06L152.44 87.81L152.31 87.69L150.56 87.69L150.44 87.56L147.44 87.56L147.31 87.44L146.06 87.44L145.94 87.31L142.69 87.31L142.56 87.19L140.44 87.19L140.31 87.06L137.56 87.06Z"/>
<path fill="#4c2457" fill-rule="evenodd" d="M137.44 87.31L137.06 89.31L136.81 89.94L136.69 91.06L136.44 91.69L136.31 92.81L136.06 93.44L135.94 94.56L135.44 96.31L135.31 97.44L135.06 98.06L134.94 99.19L134.69 99.81L134.56 100.94L134.31 101.56L134.31 102.19L135.56 104.56L137.56 104.56L137.69 104.44L139.31 104.44L139.44 104.31L140.69 104.31L140.81 104.19L141.94 104.19L142.06 104.06L143.31 104.06L143.31 103.44L140.56 95.44L140.56 95.06L137.94 87.31Z"/>
<path fill="#5a3564" fill-rule="evenodd" d="M134.31 101.81L133.44 104.31L133.44 104.94L135.94 104.69L135.94 104.06L134.81 101.81Z"/>
<path fill="#9c5420" fill-rule="evenodd" d="M138.19 70.81L137.56 87.44L139.81 87.44L139.94 87.56L142.06 87.56L142.19 87.69L145.44 87.69L145.56 87.81L146.81 87.81L146.94 87.94L149.94 87.94L150.06 88.06L151.81 88.06L151.94 88.19L153.31 88.19L153.44 88.31L154.69 88.31L154.81 88.44L155.94 88.44L156.06 88.56L158.31 88.56L158.44 88.69L159.94 88.69L160.06 88.81L162.06 88.94L162.06 88.44L157.56 83.44L156.06 81.44L154.56 79.06L151.81 75.19L150.69 72.94L150.69 72.69L149.69 70.94Z"/>
<path fill="#0d0d7c" fill-rule="evenodd" d="M138.94 54.44L138.19 71.19L146.06 71.19L146.19 71.31L149.19 71.31L149.31 71.44L149.81 71.44L149.81 70.81L146.31 63.44L144.81 54.31Z"/>
<path fill="#990a0a" fill-rule="evenodd" d="M139.69 37.81L138.94 54.81L144.81 54.69L144.81 53.81L144.56 52.94L144.44 51.31L144.31 51.19L144.19 49.69L143.94 48.81L143.94 48.06L143.81 47.94L143.81 47.19L143.69 47.06L143.56 45.56L143.31 44.69L143.31 43.94L143.19 43.81L143.19 43.06L143.06 42.94L142.94 41.44L142.69 40.56L142.44 38.19L142.31 37.81Z"/>
<path fill="#6f879d" fill-rule="evenodd" d="M140.19 27.31L139.69 38.19L142.31 38.19L142.31 37.31L141.94 35.69L141.94 34.94L141.69 34.06L141.69 33.31L141.31 31.69L141.31 30.94L141.06 30.06L140.69 27.31Z"/>
<line x1="302.57" y1="159.07" x2="304.07" y2="159.07" stroke="#cfcfcf" stroke-width="0.5" />
<text x="304.77" y="160.65" font-size="4.4" text-anchor="start" font-weight="normal" fill="#2a2a2a" >0</text>
<line x1="303.32" y1="141.89" x2="304.82" y2="141.89" stroke="#cfcfcf" stroke-width="0.5" />
<text x="305.52" y="143.48" font-size="4.4" text-anchor="start" font-weight="normal" fill="#2a2a2a" >100</text>
<line x1="304.07" y1="124.52" x2="305.57" y2="124.52" stroke="#cfcfcf" stroke-width="0.5" />
<text x="306.27" y="126.11" font-size="4.4" text-anchor="start" font-weight="normal" fill="#2a2a2a" >200</text>
<line x1="304.83" y1="106.95" x2="306.33" y2="106.95" stroke="#cfcfcf" stroke-width="0.5" />
<text x="307.03" y="108.53" font-size="4.4" text-anchor="start" font-weight="normal" fill="#2a2a2a" >300</text>
<line x1="305.59" y1="89.17" x2="307.09" y2="89.17" stroke="#cfcfcf" stroke-width="0.5" />
<text x="307.79" y="90.76" font-size="4.4" text-anchor="start" font-weight="normal" fill="#2a2a2a" >400</text>
<line x1="306.37" y1="71.19" x2="307.87" y2="71.19" stroke="#cfcfcf" stroke-width="0.5" />
<text x="308.57" y="72.77" font-size="4.4" text-anchor="start" font-weight="normal" fill="#2a2a2a" >500</text>
<line x1="307.16" y1="52.99" x2="308.66" y2="52.99" stroke="#cfcfcf" stroke-width="0.5" />
<text x="309.36" y="54.57" font-size="4.4" text-anchor="start" font-weight="normal" fill="#2a2a2a" >600</text>
<line x1="307.95" y1="34.58" x2="309.45" y2="34.58" stroke="#cfcfcf" stroke-width="0.5" />
<text x="310.15" y="36.16" font-size="4.4" text-anchor="start" font-weight="normal" fill="#2a2a2a" >700</text>
<text x="30.83" y="188.77" font-size="4.0" text-anchor="middle" font-weight="normal" fill="#2a2a2a" >0</text>
<text x="42.48" y="191.31" font-size="4.0" text-anchor="middle" font-weight="normal" fill="#2a2a2a" >2</text>
<text x="54.35" y="193.90" font-size="4.0" text-anchor="middle" font-weight="normal" fill="#2a2a2a" >4</text>
<text x="66.46" y="196.55" font-size="4.0" text-anchor="middle" font-weight="normal" fill="#2a2a2a" >6</text>
<text x="78.81" y="199.24" font-size="4.0" text-anchor="middle" font-weight="normal" fill="#2a2a2a" >8</text>
<text x="91.41" y="201.99" font-size="4.0" text-anchor="middle" font-weight="normal" fill="#2a2a2a" >10</text>
<text x="104.26" y="204.79" font-size="4.0" text-anchor="middle" font-weight="normal" fill="#2a2a2a" >12</text>
<text x="117.37" y="207.66" font-size="4.0" text-anchor="middle" font-weight="normal" fill="#2a2a2a" >14</text>
<text x="130.76" y="210.58" font-size="4.0" text-anchor="middle" font-weight="normal" fill="#2a2a2a" >16</text>
<text x="144.43" y="213.56" font-size="4.0" text-anchor="middle" font-weight="normal" fill="#2a2a2a" >18</text>
<text x="158.38" y="216.60" font-size="4.0" text-anchor="middle" font-weight="normal" fill="#2a2a2a" >20</text>
<text x="172.63" y="219.71" font-size="4.0" text-anchor="middle" font-weight="normal" fill="#2a2a2a" >22</text>
<text x="187.19" y="222.89" font-size="4.0" text-anchor="middle" font-weight="normal" fill="#2a2a2a" >24</text>
<text x="202.07" y="226.14" font-size="4.0" text-anchor="middle" font-weight="normal" fill="#2a2a2a" >26</text>
<text x="217.28" y="229.46" font-size="4.0" text-anchor="middle" font-weight="normal" fill="#2a2a2a" >28</text>
<text x="301.23" y="166.10" font-size="4.0" text-anchor="middle" font-weight="normal" fill="#2a2a2a" >3</text>
<text x="293.53" y="171.85" font-size="4.0" text-anchor="middle" font-weight="normal" fill="#2a2a2a" >6</text>
<text x="285.47" y="177.88" font-size="4.0" text-anchor="middle" font-weight="normal" fill="#2a2a2a" >9</text>
<text x="277.02" y="184.20" font-size="4.0" text-anchor="middle" font-weight="normal" fill="#2a2a2a" >12</text>
<text x="268.14" y="190.85" font-size="4.0" text-anchor="middle" font-weight="normal" fill="#2a2a2a" >15</text>
<text x="258.80" y="197.83" font-size="4.0" text-anchor="middle" font-weight="normal" fill="#2a2a2a" >18</text>
<text x="248.97" y="205.19" font-size="4.0" text-anchor="middle" font-weight="normal" fill="#2a2a2a" >21</text>
<text x="238.61" y="212.94" font-size="4.0" text-anchor="middle" font-weight="normal" fill="#2a2a2a" >24</text>
<text x="227.66" y="221.13" font-size="4.0" text-anchor="middle" font-weight="normal" fill="#2a2a2a" >27</text>
<text x="0.00" y="15.50" font-size="21" text-anchor="start" font-weight="bold" fill="#000" >a</text>
<text x="143.60" y="7.90" font-size="9.5" text-anchor="start" font-weight="bold" fill="#111" textLength="52.30" lengthAdjust="spacingAndGlyphs" >DAS28 = 5.1</text>
<text x="1.00" y="68.20" font-size="8.4" text-anchor="start" font-weight="normal" fill="#2b2b2b" textLength="14.30" lengthAdjust="spacingAndGlyphs" >ESR</text>
<text x="102.50" y="236.20" font-size="8.4" text-anchor="start" font-weight="normal" fill="#2b2b2b" textLength="12.60" lengthAdjust="spacingAndGlyphs" >TJC</text>
<text x="280.70" y="209.80" font-size="8.4" text-anchor="start" font-weight="normal" fill="#2b2b2b" textLength="13.00" lengthAdjust="spacingAndGlyphs" >SJC</text>
<rect x="318.30" y="80.70" width="3.60" height="3.60" fill="rgb(150,180,205)"/>
<text x="324.00" y="84.86" font-size="6.6" text-anchor="start" font-weight="normal" fill="#333" >600-700</text>
<rect x="318.30" y="93.70" width="3.60" height="3.60" fill="rgb(190,8,8)"/>
<text x="324.00" y="97.86" font-size="6.6" text-anchor="start" font-weight="normal" fill="#333" >500-600</text>
<rect x="318.30" y="106.45" width="3.60" height="3.60" fill="rgb(12,12,150)"/>
<text x="324.00" y="110.61" font-size="6.6" text-anchor="start" font-weight="normal" fill="#333" >400-500</text>
<rect x="318.30" y="118.95" width="3.60" height="3.60" fill="rgb(200,110,45)"/>
<text x="324.00" y="123.11" font-size="6.6" text-anchor="start" font-weight="normal" fill="#333" >300-400</text>
<rect x="318.30" y="131.70" width="3.60" height="3.60" fill="rgb(48,10,58)"/>
<text x="324.00" y="135.86" font-size="6.6" text-anchor="start" font-weight="normal" fill="#333" >200-300</text>
<rect x="318.30" y="144.70" width="3.60" height="3.60" fill="rgb(228,226,36)"/>
<text x="324.00" y="148.86" font-size="6.6" text-anchor="start" font-weight="normal" fill="#333" >100-200</text>
<rect x="318.30" y="157.20" width="3.60" height="3.60" fill="rgb(74,124,180)"/>
<text x="324.00" y="161.36" font-size="6.6" text-anchor="start" font-weight="normal" fill="#333" >0-100</text>
<line x1="393.50" y1="190.62" x2="663.20" y2="190.62" stroke="#e0e0e0" stroke-width="0.5" />
<line x1="393.50" y1="165.57" x2="663.20" y2="165.57" stroke="#e0e0e0" stroke-width="0.5" />
<line x1="393.50" y1="140.52" x2="663.20" y2="140.52" stroke="#e0e0e0" stroke-width="0.5" />
<line x1="393.50" y1="115.47" x2="663.20" y2="115.47" stroke="#e0e0e0" stroke-width="0.5" />
<line x1="393.50" y1="90.42" x2="663.20" y2="90.42" stroke="#e0e0e0" stroke-width="0.5" />
<line x1="393.50" y1="65.37" x2="663.20" y2="65.37" stroke="#e0e0e0" stroke-width="0.5" />
<line x1="393.50" y1="40.32" x2="663.20" y2="40.32" stroke="#e0e0e0" stroke-width="0.5" />
<line x1="393.50" y1="15.27" x2="663.20" y2="15.27" stroke="#e0e0e0" stroke-width="0.5" />
<line x1="393.50" y1="14.50" x2="393.50" y2="218.20" stroke="#cfcfcf" stroke-width="0.5" />
<line x1="393.50" y1="218.20" x2="663.20" y2="218.20" stroke="#cfcfcf" stroke-width="0.5" />
<line x1="663.20" y1="218.20" x2="663.20" y2="190.62" stroke="#cfcfcf" stroke-width="0.5" />
<line x1="393.50" y1="218.20" x2="393.50" y2="219.70" stroke="#cfcfcf" stroke-width="0.5" />
<line x1="403.12" y1="218.20" x2="403.12" y2="219.70" stroke="#cfcfcf" stroke-width="0.5" />
<line x1="412.75" y1="218.20" x2="412.75" y2="219.70" stroke="#cfcfcf" stroke-width="0.5" />
<line x1="422.38" y1="218.20" x2="422.38" y2="219.70" stroke="#cfcfcf" stroke-width="0.5" />
<line x1="432.00" y1="218.20" x2="432.00" y2="219.70" stroke="#cfcfcf" stroke-width="0.5" />
<line x1="441.62" y1="218.20" x2="441.62" y2="219.70" stroke="#cfcfcf" stroke-width="0.5" />
<line x1="451.25" y1="218.20" x2="451.25" y2="219.70" stroke="#cfcfcf" stroke-width="0.5" />
<line x1="460.88" y1="218.20" x2="460.88" y2="219.70" stroke="#cfcfcf" stroke-width="0.5" />
<line x1="470.50" y1="218.20" x2="470.50" y2="219.70" stroke="#cfcfcf" stroke-width="0.5" />
<line x1="480.12" y1="218.20" x2="480.12" y2="219.70" stroke="#cfcfcf" stroke-width="0.5" />
<line x1="489.75" y1="218.20" x2="489.75" y2="219.70" stroke="#cfcfcf" stroke-width="0.5" />
<line x1="499.38" y1="218.20" x2="499.38" y2="219.70" stroke="#cfcfcf" stroke-width="0.5" />
<line x1="509.00" y1="218.20" x2="509.00" y2="219.70" stroke="#cfcfcf" stroke-width="0.5" />
<line x1="518.62" y1="218.20" x2="518.62" y2="219.70" stroke="#cfcfcf" stroke-width="0.5" />
<line x1="528.25" y1="218.20" x2="528.25" y2="219.70" stroke="#cfcfcf" stroke-width="0.5" />
<line x1="537.88" y1="218.20" x2="537.88" y2="219.70" stroke="#cfcfcf" stroke-width="0.5" />
<line x1="547.50" y1="218.20" x2="547.50" y2="219.70" stroke="#cfcfcf" stroke-width="0.5" />
<line x1="557.12" y1="218.20" x2="557.12" y2="219.70" stroke="#cfcfcf" stroke-width="0.5" />
<line x1="566.75" y1="218.20" x2="566.75" y2="219.70" stroke="#cfcfcf" stroke-width="0.5" />
<line x1="576.38" y1="218.20" x2="576.38" y2="219.70" stroke="#cfcfcf" stroke-width="0.5" />
<line x1="586.00" y1="218.20" x2="586.00" y2="219.70" stroke="#cfcfcf" stroke-width="0.5" />
<line x1="595.62" y1="218.20" x2="595.62" y2="219.70" stroke="#cfcfcf" stroke-width="0.5" />
<line x1="605.25" y1="218.20" x2="605.25" y2="219.70" stroke="#cfcfcf" stroke-width="0.5" />
<line x1="614.88" y1="218.20" x2="614.88" y2="219.70" stroke="#cfcfcf" stroke-width="0.5" />
<line x1="624.50" y1="218.20" x2="624.50" y2="219.70" stroke="#cfcfcf" stroke-width="0.5" />
<line x1="634.12" y1="218.20" x2="634.12" y2="219.70" stroke="#cfcfcf" stroke-width="0.5" />
<line x1="643.75" y1="218.20" x2="643.75" y2="219.70" stroke="#cfcfcf" stroke-width="0.5" />
<line x1="653.38" y1="218.20" x2="653.38" y2="219.70" stroke="#cfcfcf" stroke-width="0.5" />
<line x1="663.00" y1="218.20" x2="663.00" y2="219.70" stroke="#cfcfcf" stroke-width="0.5" />
<path fill="#3b689c" fill-rule="evenodd" d="M394.44 172.56L394.44 172.94L398.31 178.69L400.94 183.69L401.19 183.94L403.06 187.94L404.19 188.44L404.44 188.69L407.31 190.19L407.69 190.56L407.94 190.56L409.31 191.44L410.19 191.81L412.19 193.06L412.56 193.44L412.94 193.44L414.06 193.94L415.44 194.31L417.31 195.19L417.69 195.19L418.69 195.69L421.56 196.69L422.19 197.06L423.06 197.19L423.56 197.44L426.56 198.19L426.81 198.44L427.44 198.44L427.94 198.69L430.94 199.44L431.56 199.81L432.31 199.81L435.06 200.56L436.06 200.69L436.31 200.94L437.06 200.94L440.44 201.81L440.94 201.81L441.19 202.06L442.81 202.19L443.56 202.44L445.56 202.69L445.81 202.94L446.81 202.94L449.31 203.56L450.44 203.69L450.69 203.94L451.81 203.94L451.94 204.06L455.94 204.56L457.56 204.94L459.94 205.19L460.19 205.44L461.69 205.44L462.69 205.69L464.44 205.81L464.69 206.06L466.44 206.06L466.56 206.19L467.44 206.19L468.44 206.44L469.31 206.44L469.56 206.69L471.44 206.69L471.56 206.81L472.44 206.81L472.56 206.94L473.56 206.94L474.19 207.19L475.69 207.19L475.81 207.31L476.69 207.31L476.81 207.44L478.81 207.56L479.19 207.81L481.19 207.81L481.31 207.94L482.31 207.94L482.44 208.06L483.56 208.06L483.81 208.31L485.94 208.31L486.06 208.44L488.31 208.56L488.56 208.81L490.94 208.81L491.06 208.94L492.31 208.94L492.94 209.19L495.06 209.19L495.19 209.31L497.69 209.44L498.19 209.69L502.31 209.81L503.06 210.06L507.19 210.19L507.44 210.44L511.94 210.56L512.19 210.81L515.19 210.81L515.31 210.94L516.69 210.94L517.06 211.19L520.31 211.19L520.44 211.31L521.69 211.31L521.81 211.44L526.19 211.56L526.69 211.81L532.94 211.94L533.06 212.06L535.31 212.06L536.31 212.31L540.06 212.31L540.19 212.44L544.94 212.56L545.94 212.81L550.56 212.81L550.69 212.94L553.69 212.94L553.81 213.06L555.44 213.06L555.56 213.19L560.19 213.19L560.31 213.31L563.31 213.31L563.44 213.44L565.06 213.44L565.19 213.56L572.94 213.69L573.06 213.81L574.69 213.81L574.81 213.94L581.06 213.94L581.19 214.06L584.31 214.06L584.44 214.19L590.69 214.19L590.81 214.31L593.19 214.31L593.31 214.44L600.31 214.44L600.44 214.56L602.81 214.56L602.94 214.69L609.94 214.69L610.06 214.81L612.44 214.81L612.56 214.94L619.56 214.94L619.69 215.06L622.06 215.06L622.19 215.19L629.19 215.19L629.31 215.31L634.06 215.31L634.19 215.44L638.94 215.44L639.06 215.56L658.06 215.69L658.19 215.81L660.56 215.81L660.69 215.94L663.19 215.94L663.19 190.19L625.94 190.19L625.81 190.06L568.19 189.94L568.06 189.81L548.94 189.81L548.81 189.69L529.44 189.56L529.31 189.44L514.06 189.44L513.94 189.31L510.19 189.31L510.06 189.19L491.19 189.06L491.06 188.94L485.19 188.94L485.06 188.81L481.31 188.81L481.19 188.69L475.56 188.69L475.44 188.56L471.69 188.56L471.56 188.44L467.56 188.44L467.44 188.31L464.44 188.31L464.31 188.19L462.06 188.19L461.94 188.06L457.94 188.06L457.81 187.94L454.81 187.94L454.69 187.81L452.44 187.81L452.31 187.69L446.69 187.56L446.56 187.44L444.31 187.44L444.19 187.31L442.81 187.31L442.69 187.19L440.31 187.19L440.19 187.06L435.81 186.81L435.81 187.06L437.44 187.94L441.44 190.44L446.44 192.81L446.69 192.81L446.81 192.94L446.69 193.06L437.31 192.69L437.19 192.56L436.06 192.56L435.94 192.44L432.19 192.44L432.06 192.31L430.69 192.31L430.56 192.19L427.44 192.19L427.31 192.06L424.44 191.81L423.44 191.56L422.56 191.56L421.19 191.19L420.44 191.19L419.06 190.81L418.44 190.81L416.81 190.31L414.81 190.06L412.44 189.31L411.94 189.31L411.44 188.94L409.69 188.31L409.31 188.31L408.69 187.94L406.81 187.31L406.06 186.81L404.31 186.31L404.06 186.06L403.31 185.81L402.69 185.06L402.06 183.94L401.94 183.44L401.44 182.94L401.19 182.31L400.81 182.06L400.06 180.56L399.69 180.19L398.44 177.94L398.06 177.69L397.19 176.06L395.06 173.31L394.69 172.56Z"/>
<path fill="#d5d21e" fill-rule="evenodd" d="M393.44 159.31L393.44 171.31L394.19 172.56L394.56 172.81L394.94 173.56L397.06 176.31L397.94 177.94L398.31 178.19L399.56 180.44L399.94 180.81L400.69 182.31L401.06 182.56L401.31 183.19L401.81 183.69L402.06 184.44L403.06 185.94L403.56 186.06L404.06 186.44L405.81 186.94L406.56 187.44L407.19 187.56L409.06 188.44L409.44 188.44L411.19 189.06L411.69 189.44L412.19 189.44L414.56 190.19L415.94 190.31L417.19 190.69L417.69 190.69L418.19 190.94L418.81 190.94L420.19 191.31L420.94 191.31L422.31 191.69L423.19 191.69L423.31 191.81L425.06 191.94L425.19 192.06L426.19 192.06L427.19 192.31L430.31 192.31L430.44 192.44L431.81 192.44L431.94 192.56L435.69 192.56L435.81 192.69L436.94 192.69L437.06 192.81L439.19 192.81L439.31 192.94L441.44 192.94L441.56 193.06L445.44 193.06L445.56 193.19L447.19 193.19L447.69 193.31L447.69 193.06L441.69 190.31L431.81 184.31L422.31 176.31L415.81 168.19L415.56 168.06L412.94 168.06L412.81 167.94L411.94 167.94L411.81 167.81L409.06 167.56L408.94 167.44L403.19 167.19L402.31 166.44L401.56 166.06L399.69 164.44L399.31 164.31L398.69 163.56L398.19 163.31L397.69 162.69L397.19 162.44L393.69 159.31Z"/>
<path fill="#370d42" fill-rule="evenodd" d="M393.44 139.31L393.44 159.44L396.94 162.56L397.44 162.81L397.94 163.44L398.44 163.69L399.06 164.44L399.44 164.56L401.31 166.19L402.06 166.56L402.94 167.31L408.69 167.56L408.81 167.69L410.69 167.81L410.81 167.94L412.56 168.06L412.69 168.19L415.31 168.19L415.69 168.31L415.44 167.69L413.19 164.94L412.19 163.06L412.19 162.81L410.81 160.06L410.81 159.81L409.44 157.06L409.44 156.81L408.06 154.06L408.06 153.81L406.69 151.06L406.69 150.81L405.31 148.06L405.31 147.81L403.94 145.06L403.19 143.19L400.69 142.31L399.31 142.19L395.69 140.44L393.81 139.31Z"/>
<path fill="#b96426" fill-rule="evenodd" d="M393.44 116.56L393.44 139.44L399.06 142.31L400.44 142.44L403.19 143.31L400.56 118.19L398.31 117.56L395.31 117.19L394.31 116.69Z"/>
<path fill="#0f0f93" fill-rule="evenodd" d="M393.44 92.44L393.44 116.69L394.06 116.81L395.06 117.31L398.06 117.69L400.56 118.31L397.94 93.19L397.81 93.06L395.81 92.81L395.06 92.56Z"/>
<path fill="#b50b0b" fill-rule="evenodd" d="M393.44 67.94L393.44 92.56L394.06 92.56L394.19 92.69L394.81 92.69L394.94 92.81L397.94 93.31L397.69 90.19L397.56 90.06L397.56 88.94L397.44 88.81L397.44 87.81L397.31 87.69L397.31 86.56L397.19 86.44L397.19 85.44L397.06 85.31L397.06 84.19L396.94 84.06L396.94 83.06L396.81 82.94L396.81 81.81L396.69 81.69L396.69 80.69L396.56 80.56L396.56 79.44L396.44 79.31L396.44 78.19L396.31 78.06L396.31 77.06L396.19 76.94L396.19 75.81L396.06 75.69L396.06 74.69L395.94 74.56L395.94 73.44L395.81 73.31L395.81 72.31L395.69 72.19L395.69 71.06L395.56 70.94L395.56 69.94L395.44 69.81L395.44 68.69L395.19 68.06Z"/>
<path fill="#84a0bb" fill-rule="evenodd" d="M393.44 52.31L393.44 68.06L394.44 68.06L395.31 68.31L395.06 65.06L394.94 64.94L394.94 63.94L394.81 63.81L394.81 62.69L394.69 62.56L394.69 61.44L394.56 61.31L394.56 60.31L394.44 60.19L394.44 59.06L394.31 58.94L394.31 57.81L394.19 57.69L394.19 56.56L394.06 56.44L393.94 54.19L393.81 54.06L393.81 52.94L393.69 52.81L393.69 52.31Z"/>
<path fill="#284669" fill-rule="evenodd" d="M460.69 197.94L460.69 204.06L463.19 204.44L463.31 204.56L463.81 204.56L463.94 204.69L464.44 204.69L467.69 205.44L468.31 205.44L470.31 205.94L473.44 206.31L474.31 206.56L475.06 206.56L475.19 206.69L477.44 206.94L478.31 207.19L479.06 207.19L479.81 207.44L480.94 207.44L481.06 207.56L485.19 207.94L485.31 208.06L486.19 208.06L486.31 208.19L487.31 208.19L487.44 208.31L488.31 208.31L488.44 208.44L489.31 208.44L489.44 208.56L490.56 208.56L490.69 208.69L491.56 208.69L491.69 208.81L492.69 208.81L492.81 208.94L493.69 208.94L493.81 209.06L496.94 209.31L497.06 209.44L497.94 209.44L498.06 209.56L498.94 209.56L499.06 209.69L500.44 209.69L500.56 209.81L507.31 210.31L507.44 210.44L508.44 210.44L508.56 210.56L513.56 210.81L513.69 210.94L516.69 211.06L516.81 211.19L518.06 211.19L518.19 211.31L520.19 211.31L520.31 211.44L522.19 211.44L522.31 211.56L524.06 211.56L524.19 211.69L526.06 211.69L526.19 211.81L527.56 211.81L527.69 211.94L530.31 211.94L530.44 212.06L535.19 212.19L535.31 212.31L537.19 212.31L537.31 212.44L542.44 212.56L542.56 212.69L544.81 212.69L544.94 212.81L546.56 212.81L546.69 212.94L550.44 212.94L550.56 213.06L553.56 213.06L553.69 213.19L556.19 213.19L556.31 213.31L563.19 213.44L563.31 213.56L565.56 213.56L565.69 213.69L572.81 213.81L572.94 213.94L574.94 213.94L575.06 214.06L580.94 214.06L581.06 214.19L584.19 214.19L584.31 214.31L590.56 214.31L590.69 214.44L593.06 214.44L593.19 214.56L600.19 214.56L600.31 214.69L602.69 214.69L602.81 214.81L609.81 214.81L609.94 214.94L612.31 214.94L612.44 215.06L619.44 215.06L619.56 215.19L621.94 215.19L622.06 215.31L629.06 215.31L629.19 215.44L633.94 215.44L634.06 215.56L638.81 215.56L638.94 215.69L657.94 215.81L658.06 215.94L660.44 215.94L660.56 216.06L663.31 216.06L663.31 215.31L648.81 215.19L648.69 215.06L639.19 215.06L639.06 214.94L629.56 214.81L629.44 214.69L622.44 214.69L622.31 214.56L619.94 214.56L619.81 214.44L612.81 214.44L612.69 214.31L608.94 214.31L608.81 214.19L607.94 214.19L607.81 214.06L602.44 214.06L602.31 213.94L599.31 213.94L599.19 213.81L597.56 213.81L597.44 213.69L592.81 213.69L592.69 213.56L589.69 213.56L589.56 213.44L587.56 213.44L587.44 213.31L583.19 213.31L583.06 213.19L580.06 213.19L579.94 213.06L577.94 213.06L577.81 212.94L574.44 212.94L574.31 212.81L569.56 212.69L569.44 212.56L568.06 212.56L567.94 212.44L565.31 212.44L565.19 212.31L563.31 212.31L563.19 212.19L561.44 212.19L561.31 212.06L559.44 212.06L559.31 211.94L558.19 211.94L558.06 211.81L555.69 211.81L555.56 211.69L553.69 211.69L553.56 211.56L551.81 211.56L551.69 211.44L549.81 211.44L549.69 211.31L548.44 211.31L548.31 211.19L546.31 211.19L546.19 211.06L543.06 210.94L542.94 210.81L541.56 210.81L541.44 210.69L539.94 210.69L539.81 210.56L538.69 210.56L538.56 210.44L536.69 210.44L536.56 210.31L533.44 210.19L533.31 210.06L531.94 210.06L531.81 209.94L530.31 209.94L530.19 209.81L529.06 209.81L528.94 209.69L527.44 209.69L527.31 209.56L523.81 209.31L523.69 209.19L522.69 209.19L522.56 209.06L521.44 209.06L521.31 208.94L520.31 208.94L520.19 208.81L519.31 208.81L519.19 208.69L517.94 208.69L517.81 208.56L516.94 208.56L516.81 208.44L515.81 208.44L515.69 208.31L514.81 208.31L514.69 208.19L513.69 208.19L513.56 208.06L511.56 207.94L511.44 207.81L510.56 207.81L509.56 207.56L508.44 207.56L507.44 207.31L506.56 207.31L506.44 207.19L504.56 207.06L503.56 206.81L501.69 206.69L501.56 206.56L499.06 206.31L498.94 206.19L495.31 205.69L494.56 205.44L490.94 204.94L490.19 204.69L489.44 204.69L488.69 204.44L488.06 204.44L487.31 204.19L486.69 204.19L485.94 203.94L485.31 203.94L484.56 203.69L481.19 203.19L476.19 201.94L475.69 201.94L474.06 201.44L473.56 201.44L471.94 200.94L470.44 200.69L469.94 200.44L469.56 200.44L469.06 200.19L468.69 200.19L468.19 199.94L467.81 199.94L467.31 199.69L466.94 199.69L461.19 197.94Z"/>
<path fill="#2a4a6f" fill-rule="evenodd" d="M402.94 185.69L402.94 187.19L412.31 193.31L412.94 193.31L413.06 193.06L416.19 194.56L416.44 194.56L421.56 196.94L421.81 196.94L422.06 197.19L422.56 197.19L422.56 196.81L422.81 196.69L426.94 198.06L427.31 198.31L431.31 199.56L431.56 199.81L432.19 199.81L432.31 199.56L432.56 199.56L435.44 200.44L436.31 200.56L436.81 200.81L437.69 200.94L438.19 201.19L439.06 201.31L439.56 201.56L440.44 201.69L441.19 202.06L441.81 202.06L441.94 201.69L442.56 201.94L443.06 201.94L443.69 202.19L444.19 202.19L444.81 202.44L445.31 202.44L445.94 202.69L446.44 202.69L447.06 202.94L449.81 203.44L450.81 203.81L451.69 203.81L452.44 204.06L453.06 204.06L453.81 204.31L454.44 204.31L455.19 204.56L455.81 204.56L456.56 204.81L459.94 205.31L460.31 205.56L461.06 205.56L461.06 205.31L461.31 205.19L461.44 205.31L465.44 205.81L467.06 206.19L469.44 206.44L469.94 206.69L471.19 206.69L472.19 206.94L473.06 206.94L473.19 207.06L475.06 207.19L476.06 207.44L477.94 207.56L479.44 207.94L481.06 207.94L481.19 208.06L482.19 208.06L482.31 208.19L483.44 208.19L483.56 208.31L488.19 208.69L488.94 208.94L489.94 208.94L489.94 208.19L489.81 208.06L486.81 207.81L486.69 207.69L485.81 207.69L485.69 207.56L484.69 207.56L484.56 207.44L483.69 207.44L483.56 207.31L482.56 207.31L482.44 207.19L481.56 207.19L481.44 207.06L480.31 207.06L479.56 206.81L478.81 206.81L478.69 206.69L477.19 206.56L475.56 206.19L474.81 206.19L473.94 205.94L470.81 205.56L470.69 205.44L468.19 205.06L468.06 204.94L467.56 204.94L467.44 204.81L466.94 204.81L463.69 204.06L461.19 203.69L456.31 202.44L455.81 202.44L454.69 202.06L454.19 202.06L452.56 201.56L451.56 201.44L447.31 200.06L446.94 200.06L446.44 199.81L446.06 199.81L445.19 199.44L444.81 199.44L443.94 199.06L441.94 198.56L432.56 194.81L427.44 191.94L422.69 191.44L421.31 191.06L420.56 191.06L419.19 190.69L418.56 190.69L418.06 190.44L417.56 190.44L416.31 190.06L414.44 189.81L412.56 189.19L412.06 189.19L411.56 188.81L409.81 188.19L409.44 188.19L408.81 187.81L406.94 187.19L406.19 186.69L404.44 186.19L403.94 185.81Z"/>
<path fill="#2f537c" fill-rule="evenodd" d="M451.06 194.56L451.06 201.81L452.06 201.94L455.31 202.81L455.81 202.81L459.56 203.81L461.06 203.94L461.06 197.94L455.56 196.06L455.19 195.81L453.06 195.19L452.69 194.94L451.56 194.56ZM394.31 172.44L394.31 173.06L396.44 176.06L399.44 181.06L400.81 183.81L401.06 184.06L402.81 187.81L403.31 187.81L403.31 186.56L403.06 186.19L402.06 183.31L401.56 182.81L401.31 182.19L400.94 181.94L399.19 178.81L398.81 178.44L398.56 177.81L398.19 177.56L397.56 176.31L396.81 175.44L396.44 174.69L395.19 173.19L394.81 172.44Z"/>
<path fill="#315782" fill-rule="evenodd" d="M401.94 184.19L401.94 184.69L402.19 185.06L402.81 186.94L403.31 186.94L403.19 185.56L402.44 184.19Z"/>
<path fill="#345b89" fill-rule="evenodd" d="M441.44 192.81L441.44 198.94L442.19 199.06L446.44 200.44L446.81 200.44L450.19 201.56L451.44 201.69L451.44 194.56L451.31 194.44L447.56 192.94ZM402.56 185.19L402.56 185.69L402.81 186.31L403.31 186.31L403.19 185.31L403.06 185.19Z"/>
<path fill="#386495" fill-rule="evenodd" d="M431.81 192.31L431.81 195.06L440.81 198.69L441.81 198.81L441.81 192.69L437.44 192.56L437.31 192.44L436.19 192.44L436.06 192.31Z"/>
<path fill="#3b689c" fill-rule="evenodd" d="M574.69 213.56L574.69 214.06L575.44 214.06L575.44 213.56ZM565.06 213.19L565.06 213.69L566.06 213.69L566.06 213.19ZM555.44 212.81L555.44 213.31L556.69 213.31L556.69 212.81ZM545.81 212.44L545.81 212.94L547.06 212.94L547.06 212.44ZM536.19 211.94L536.19 212.44L537.69 212.44L537.69 211.94ZM526.56 211.44L526.56 211.94L528.06 211.94L528.06 211.44ZM521.69 211.06L521.69 211.56L522.69 211.56L522.69 211.06ZM516.69 210.69L516.69 211.19L516.94 211.31L518.56 211.31L518.56 210.81ZM511.94 210.31L511.94 210.81L512.06 210.94L514.06 210.94L514.06 210.44ZM507.19 209.94L507.19 210.44L507.31 210.56L508.94 210.56L508.94 210.06ZM505.56 209.81L505.56 210.31L506.44 210.31L506.44 209.81ZM488.44 208.44L488.44 208.94L489.31 208.94L489.31 208.44ZM489.56 208.19L489.56 208.94L492.19 209.06L492.81 209.31L494.94 209.31L495.06 209.44L497.56 209.56L498.06 209.81L500.69 209.81L500.81 209.94L502.19 209.94L502.94 210.19L505.06 210.19L505.06 209.69L499.56 209.31L499.44 209.19L496.44 208.94L496.31 208.81L495.44 208.81L495.31 208.69L494.31 208.69L494.19 208.56L493.31 208.56L493.19 208.44L492.19 208.44L492.06 208.31L491.19 208.31L491.06 208.19ZM483.69 207.94L483.69 208.44L485.19 208.44L485.19 207.94ZM478.81 207.31L478.81 207.81L479.81 207.94L479.81 207.44ZM477.81 207.19L477.81 207.69L478.44 207.69L478.44 207.19ZM476.69 207.06L476.69 207.56L477.44 207.56L477.44 207.06ZM459.94 204.94L459.94 205.44L460.06 205.56L461.56 205.56L462.56 205.81L463.44 205.81L463.56 205.94L464.31 205.94L464.56 206.19L467.31 206.31L468.31 206.56L469.19 206.56L469.44 206.81L471.31 206.81L471.44 206.94L472.31 206.94L472.44 207.06L473.44 207.06L474.06 207.31L476.44 207.44L476.44 206.94L472.69 206.56L471.69 206.31L470.44 206.31L469.94 206.06L469.19 206.06L469.06 205.94L467.56 205.81L467.44 205.69L465.19 205.44L464.31 205.19L463.56 205.19L462.69 204.94L461.94 204.94L461.81 204.81L460.69 204.81L460.56 205.06L460.44 204.94ZM402.94 186.81L402.94 188.06L404.06 188.56L404.31 188.81L407.19 190.31L407.56 190.69L407.81 190.69L409.19 191.56L410.06 191.94L412.06 193.19L412.44 193.56L412.81 193.56L413.94 194.06L415.31 194.44L417.19 195.31L417.56 195.31L421.19 196.81L421.69 196.81L421.81 197.06L426.44 198.31L426.69 198.56L427.31 198.56L427.81 198.81L430.81 199.56L431.44 199.94L432.19 199.94L434.94 200.69L435.94 200.81L436.19 201.06L436.94 201.06L440.31 201.94L440.81 201.94L441.06 202.19L441.94 202.19L442.06 202.31L442.69 202.31L444.81 202.81L445.44 202.81L445.69 203.06L446.69 203.06L446.81 203.19L448.56 203.44L449.19 203.69L450.31 203.81L450.56 204.06L451.69 204.06L451.81 204.19L452.56 204.19L453.44 204.44L454.19 204.44L455.06 204.69L455.81 204.69L457.44 205.06L459.69 205.31L459.69 204.81L457.06 204.44L456.31 204.19L455.69 204.19L454.94 203.94L454.31 203.94L453.56 203.69L452.94 203.69L452.19 203.44L451.31 203.44L450.31 203.06L449.81 203.06L449.19 202.81L448.69 202.81L448.06 202.56L447.56 202.56L446.94 202.31L446.44 202.31L442.44 201.31L441.06 201.44L438.19 200.56L437.31 200.44L436.81 200.19L435.94 200.06L435.44 199.81L434.56 199.69L434.06 199.44L433.19 199.31L432.69 199.06L431.81 199.06L431.56 199.19L422.94 196.19L422.19 196.19L422.19 196.44L421.81 196.56L421.69 196.31L421.19 196.06L420.94 196.06L417.81 194.56L416.69 194.19L413.19 192.56L412.56 192.56L412.44 192.69L403.56 186.81ZM435.69 186.69L435.69 187.19L441.31 190.56L446.31 192.94L446.56 192.94L447.69 193.56L447.94 193.56L451.19 195.06L452.19 195.31L452.56 195.56L454.69 196.19L455.06 196.44L456.81 196.94L457.19 197.19L459.31 197.81L461.19 198.56L461.56 198.56L462.06 198.81L462.44 198.81L462.94 199.06L463.31 199.06L463.81 199.31L464.19 199.31L469.94 201.06L471.44 201.31L473.06 201.81L473.56 201.81L475.19 202.31L475.69 202.31L476.81 202.69L477.31 202.69L478.94 203.19L480.06 203.31L480.69 203.56L481.31 203.56L482.06 203.81L482.69 203.81L482.81 203.94L485.44 204.31L486.19 204.56L486.81 204.56L487.56 204.81L488.19 204.81L488.94 205.06L489.69 205.06L490.44 205.31L494.06 205.81L494.81 206.06L495.44 206.06L495.56 206.19L496.19 206.19L496.31 206.31L496.94 206.31L498.56 206.69L502.06 207.06L502.19 207.19L503.06 207.19L504.06 207.44L504.94 207.44L505.06 207.56L505.94 207.56L506.06 207.69L506.94 207.69L507.94 207.94L509.06 207.94L510.06 208.19L514.19 208.56L514.31 208.69L515.19 208.69L515.31 208.81L516.31 208.81L516.44 208.94L517.31 208.94L517.44 209.06L518.69 209.06L518.81 209.19L519.69 209.19L519.81 209.31L522.06 209.44L522.19 209.56L524.44 209.69L524.56 209.81L525.69 209.81L525.81 209.94L526.81 209.94L526.94 210.06L528.44 210.06L528.56 210.19L529.69 210.19L529.81 210.31L531.31 210.31L531.44 210.44L536.06 210.69L536.19 210.81L538.06 210.81L538.19 210.94L539.31 210.94L539.44 211.06L540.94 211.06L541.06 211.19L545.69 211.44L545.81 211.56L547.81 211.56L547.94 211.69L549.19 211.69L549.31 211.81L551.19 211.81L551.31 211.94L555.06 212.06L555.19 212.19L557.56 212.19L557.69 212.31L558.81 212.31L558.94 212.44L560.81 212.44L560.94 212.56L564.69 212.69L564.81 212.81L567.44 212.81L567.56 212.94L568.94 212.94L569.06 213.06L573.81 213.19L573.94 213.31L577.31 213.31L577.44 213.44L582.56 213.56L582.69 213.69L586.94 213.69L587.06 213.81L592.19 213.94L592.31 214.06L596.94 214.06L597.06 214.19L601.81 214.31L601.94 214.44L607.31 214.44L607.44 214.56L608.31 214.56L608.44 214.69L612.19 214.69L612.31 214.81L619.31 214.81L619.44 214.94L621.81 214.94L621.94 215.06L628.94 215.06L629.06 215.19L633.81 215.19L633.94 215.31L638.56 215.31L638.69 215.44L648.19 215.44L648.31 215.56L663.31 215.69L663.31 190.06L626.06 190.06L625.94 189.94L568.31 189.81L568.19 189.69L549.06 189.69L548.94 189.56L529.56 189.44L529.44 189.31L514.19 189.31L514.06 189.19L510.31 189.19L510.19 189.06L491.31 188.94L491.19 188.81L485.31 188.81L485.19 188.69L481.44 188.69L481.31 188.56L475.69 188.56L475.56 188.44L471.81 188.44L471.69 188.31L467.69 188.31L467.56 188.19L464.56 188.19L464.44 188.06L462.19 188.06L462.06 187.94L458.06 187.94L457.94 187.81L454.94 187.81L454.81 187.69L452.56 187.69L452.44 187.56L446.81 187.44L446.69 187.31L444.44 187.31L444.31 187.19L442.94 187.19L442.81 187.06L440.44 187.06L440.31 186.94Z"/>
<path fill="#3d6ca2" fill-rule="evenodd" d="M427.44 192.06L427.44 192.56L431.56 194.94L432.19 194.94L432.19 192.19Z"/>
<path fill="#929015" fill-rule="evenodd" d="M402.94 167.19L402.94 186.06L403.44 186.19L403.94 186.56L405.69 187.06L406.44 187.56L407.06 187.69L408.94 188.56L409.31 188.56L411.06 189.19L411.56 189.56L412.06 189.56L413.94 190.19L415.81 190.44L417.06 190.81L417.56 190.81L418.06 191.06L418.69 191.06L420.06 191.44L420.81 191.44L422.19 191.81L423.06 191.81L424.06 192.06L427.56 192.44L427.56 191.94L423.31 189.69L422.19 188.94L412.81 180.94L403.44 167.19Z"/>
<path fill="#a3a117" fill-rule="evenodd" d="M393.31 159.44L393.31 171.44L394.06 172.69L394.44 172.94L394.81 173.69L396.94 176.44L397.81 178.06L398.19 178.31L399.44 180.56L399.81 180.94L400.56 182.44L400.94 182.69L401.19 183.31L401.56 183.69L402.06 183.69L401.94 182.81L401.69 182.44L399.69 176.31L399.44 175.94L397.56 170.19L397.31 169.81L396.56 167.31L396.31 166.94L394.31 160.81L394.06 160.44L393.81 159.44Z"/>
<path fill="#aba918" fill-rule="evenodd" d="M393.31 159.19L393.31 159.81L393.69 160.94L393.94 161.31L394.81 164.19L395.06 164.56L395.94 167.44L396.19 167.81L396.94 170.31L397.19 170.69L398.06 173.56L398.31 173.94L401.81 184.31L402.44 185.44L402.94 185.44L402.94 184.94L402.19 182.94L402.19 182.56L400.56 177.94L400.56 177.56L398.94 172.94L398.94 172.56L397.31 167.94L397.31 167.56L395.69 162.94L395.69 162.56L394.94 160.31L393.81 159.19Z"/>
<path fill="#b4b119" fill-rule="evenodd" d="M441.44 190.19L441.44 193.19L445.31 193.19L445.44 193.31L447.81 193.44L447.81 192.94L441.94 190.19ZM394.44 160.19L394.44 160.69L395.31 163.06L395.31 163.44L396.94 168.06L396.94 168.44L398.56 173.06L398.56 173.44L400.19 178.06L400.19 178.44L401.81 183.06L401.81 183.44L402.44 185.31L402.81 185.94L403.31 185.94L403.31 185.06L403.06 184.56L403.06 184.19L402.56 182.94L402.19 181.31L401.19 178.44L401.19 178.06L399.81 173.94L399.81 173.56L398.44 169.44L398.44 169.06L397.06 164.94L397.06 164.56L396.69 163.69L396.69 163.31L396.19 162.06L396.06 161.31L394.94 160.19Z"/>
<path fill="#bcb91b" fill-rule="evenodd" d="M395.56 161.19L395.81 162.56L396.31 163.81L396.31 164.19L397.69 168.31L397.69 168.69L398.56 171.19L398.56 171.56L399.06 172.81L399.06 173.19L399.94 175.69L399.94 176.06L400.44 177.31L400.44 177.69L401.31 180.19L401.31 180.56L401.81 181.81L401.81 182.19L402.69 184.69L402.81 185.44L403.31 185.44L403.19 183.44L402.94 182.94L402.94 182.56L401.94 179.44L401.81 178.56L401.56 178.06L401.56 177.69L401.31 177.19L401.31 176.81L401.06 176.31L401.06 175.94L400.81 175.44L400.81 175.06L400.56 174.56L400.56 174.19L398.81 168.44L398.69 167.56L398.44 167.06L398.44 166.69L398.19 166.19L397.19 162.31L396.06 161.19Z"/>
<path fill="#c4c21c" fill-rule="evenodd" d="M431.81 184.44L431.81 192.69L435.56 192.69L435.69 192.81L436.81 192.81L436.94 192.94L441.81 193.06L441.81 190.19L441.56 189.94L437.19 187.44L432.56 184.56ZM396.69 162.19L396.81 163.19L397.06 163.69L397.06 164.06L398.31 168.06L398.44 168.94L398.69 169.44L398.69 169.81L398.94 170.31L398.94 170.69L399.19 171.19L399.19 171.56L399.44 172.06L399.44 172.44L399.69 172.94L399.69 173.31L401.44 179.06L401.56 179.94L401.81 180.44L402.81 184.31L403.31 184.31L403.31 182.44L402.81 180.44L402.56 179.94L402.19 178.06L401.94 177.56L401.56 175.69L401.31 175.19L400.81 172.81L400.56 172.31L400.19 170.44L399.94 169.94L399.56 168.06L399.31 167.56L398.94 165.69L398.69 165.19L398.31 163.31L397.81 162.56L397.19 162.19Z"/>
<path fill="#cdca1d" fill-rule="evenodd" d="M397.81 163.19L397.81 163.69L398.31 165.69L398.56 166.19L398.94 168.06L399.19 168.56L399.56 170.44L400.44 173.31L402.81 182.81L403.31 182.81L403.31 167.06L402.44 166.31L401.69 165.94L399.81 164.31L399.44 164.19L398.81 163.44L398.44 163.19Z"/>
<path fill="#d5d21e" fill-rule="evenodd" d="M402.94 167.06L402.94 167.56L403.31 168.19L403.69 168.56L411.56 180.19L412.81 181.81L421.69 189.31L422.81 190.06L423.94 190.56L427.19 192.44L432.19 192.56L432.19 184.31L423.06 176.81L421.31 174.81L415.94 168.06L415.69 167.94L413.06 167.94L412.94 167.81L412.06 167.81L411.94 167.69L409.19 167.44L409.06 167.31Z"/>
<path fill="#2c0b35" fill-rule="evenodd" d="M393.31 156.81L393.31 159.56L394.31 160.44L394.81 160.44L394.81 159.94L394.31 158.69L394.31 158.31L393.81 156.81Z"/>
<path fill="#2e0b38" fill-rule="evenodd" d="M393.31 153.81L393.31 157.19L393.94 158.81L394.31 160.31L395.44 161.44L395.94 161.44L395.81 160.44L395.44 159.56L395.44 159.19L395.06 158.31L395.06 157.94L394.69 157.06L394.69 156.69L394.31 155.81L393.81 153.81Z"/>
<path fill="#300c3a" fill-rule="evenodd" d="M393.31 150.06L393.31 154.19L395.06 159.69L395.06 160.06L395.44 160.94L395.44 161.31L396.56 162.44L397.06 162.44L396.81 160.94L396.31 159.56L396.19 158.69L395.94 158.19L395.44 155.94L395.19 155.44L394.44 152.31L393.94 150.94L393.81 150.06Z"/>
<path fill="#320c3d" fill-rule="evenodd" d="M393.31 145.56L393.31 150.44L394.06 152.81L394.19 153.69L395.06 156.44L395.19 157.31L395.44 157.81L395.94 160.06L396.44 161.44L396.56 162.31L397.69 163.44L398.19 163.44L398.19 162.94L396.06 154.44L395.81 153.94L393.81 145.56Z"/>
<path fill="#350d3f" fill-rule="evenodd" d="M393.31 139.19L393.31 145.94L395.44 154.44L395.69 154.94L397.69 163.31L398.94 164.56L399.31 164.69L399.81 165.19L400.31 165.44L401.19 166.31L401.94 166.69L402.44 167.19L403.19 167.31L403.19 166.56L402.94 165.69L402.94 164.94L402.81 164.81L402.69 163.31L402.31 161.69L402.31 160.94L402.06 160.06L402.06 159.31L401.81 158.44L401.81 157.69L401.56 156.81L401.56 156.06L401.31 155.19L401.31 154.44L400.94 152.81L400.94 152.06L400.69 151.19L400.69 150.44L400.44 149.56L400.44 148.81L400.19 147.94L400.19 147.19L400.06 147.06L399.31 141.94L395.81 140.31L393.94 139.19Z"/>
<path fill="#370d42" fill-rule="evenodd" d="M398.94 142.06L398.94 142.81L399.19 143.69L399.19 144.44L399.31 144.56L399.44 146.06L399.81 147.69L399.81 148.44L400.06 149.31L400.06 150.06L400.31 150.94L400.31 151.69L400.56 152.56L400.56 153.31L400.94 154.94L400.94 155.69L401.19 156.56L401.19 157.31L401.44 158.19L401.44 158.94L401.69 159.81L401.69 160.56L401.94 161.44L401.94 162.19L402.06 162.31L402.81 167.44L408.56 167.69L408.69 167.81L410.56 167.94L410.69 168.06L412.44 168.19L412.56 168.31L415.19 168.31L415.31 168.44L415.81 168.44L415.81 167.94L413.31 164.81L412.31 162.94L412.31 162.69L410.94 159.94L410.94 159.69L409.56 156.94L409.56 156.69L408.19 153.94L408.19 153.69L406.81 150.94L406.81 150.69L405.44 147.94L405.44 147.69L404.06 144.94L403.31 143.06L400.81 142.19Z"/>
<path fill="#b16024" fill-rule="evenodd" d="M393.31 116.44L393.31 139.56L398.69 142.31L399.31 142.31L399.31 141.56L399.19 141.44L399.19 140.81L398.81 139.19L398.81 138.44L398.69 138.31L398.69 137.69L398.31 136.06L398.31 135.31L398.19 135.19L398.19 134.56L397.81 132.94L397.81 132.19L397.69 132.06L397.69 131.44L397.31 129.81L397.31 129.06L397.19 128.94L397.19 128.31L396.81 126.69L396.81 125.94L396.69 125.81L396.69 125.19L396.31 123.56L396.31 122.81L396.19 122.69L396.19 122.06L395.81 120.44L395.31 116.94L394.06 116.44Z"/>
<path fill="#b96426" fill-rule="evenodd" d="M394.94 117.06L394.94 117.81L395.06 117.94L395.06 118.56L395.44 120.19L395.44 120.94L395.56 121.06L395.56 121.69L395.94 123.31L395.94 124.06L396.06 124.19L396.06 124.81L396.44 126.44L396.44 127.19L396.56 127.31L396.56 127.94L396.94 129.56L396.94 130.31L397.06 130.44L397.06 131.06L397.44 132.69L397.44 133.44L397.56 133.56L397.56 134.19L397.69 134.31L397.69 134.94L397.81 135.06L397.94 136.56L398.06 136.69L398.06 137.31L398.19 137.44L398.94 142.44L400.31 142.56L402.81 143.44L403.31 143.44L403.19 141.19L403.06 141.06L403.06 140.06L402.94 139.94L402.94 138.81L402.81 138.69L402.81 137.69L402.69 137.56L402.69 136.44L402.56 136.31L402.56 135.31L402.44 135.19L402.44 134.06L402.31 133.94L402.31 132.94L402.19 132.81L402.19 131.69L402.06 131.56L402.06 130.56L401.94 130.44L401.81 128.06L401.69 127.94L401.56 125.69L401.44 125.56L401.44 124.56L401.31 124.44L401.31 123.31L401.19 123.19L401.19 122.19L401.06 122.06L401.06 120.94L400.94 120.81L400.69 118.06L398.44 117.44L396.19 117.19L396.06 117.06Z"/>
<path fill="#0e0e8d" fill-rule="evenodd" d="M393.31 106.31L393.31 116.81L393.94 116.94L394.69 117.31L395.31 117.31L395.31 116.56L395.19 116.44L395.06 114.81L394.81 113.94L394.81 113.19L394.69 113.06L394.19 108.81L393.94 107.94L393.81 106.31Z"/>
<path fill="#0f0f93" fill-rule="evenodd" d="M393.31 92.31L393.31 106.69L393.44 106.81L393.44 107.56L393.56 107.69L393.56 108.44L393.81 109.31L393.81 110.06L393.94 110.19L393.94 110.94L394.06 111.06L394.06 111.81L394.19 111.94L394.19 112.69L394.31 112.81L394.31 113.56L394.44 113.69L394.44 114.44L394.56 114.56L394.94 117.44L397.94 117.81L400.19 118.44L400.69 118.44L400.56 116.19L400.44 116.06L400.44 115.06L400.31 114.94L400.31 113.81L400.19 113.69L400.19 112.69L400.06 112.56L400.06 111.44L399.94 111.31L399.94 110.31L399.81 110.19L399.81 109.06L399.69 108.94L399.69 107.94L399.56 107.81L399.56 106.69L399.44 106.56L399.44 105.56L399.31 105.44L399.19 103.06L399.06 102.94L398.94 100.69L398.81 100.56L398.81 99.56L398.69 99.44L398.69 98.31L398.56 98.19L398.56 97.19L398.44 97.06L398.44 95.94L398.31 95.81L398.06 93.06L397.94 92.94L395.94 92.69L394.44 92.31Z"/>
<path fill="#b50b0b" fill-rule="evenodd" d="M393.31 67.81L393.31 92.69L393.94 92.69L394.06 92.81L394.69 92.81L395.44 93.06L398.06 93.44L397.94 91.19L397.81 91.06L397.69 88.81L397.56 88.69L397.44 86.44L397.31 86.31L397.19 84.06L397.06 83.94L396.94 81.69L396.81 81.56L396.69 79.31L396.56 79.19L396.56 78.06L396.44 77.94L396.06 73.31L395.94 73.19L395.94 72.19L395.81 72.06L395.81 70.94L395.69 70.81L395.69 69.81L395.56 69.69L395.56 68.56L395.31 67.94Z"/>
<path fill="#84a0bb" fill-rule="evenodd" d="M393.31 52.19L393.31 68.19L394.31 68.19L394.94 68.44L395.44 68.44L395.19 64.94L395.06 64.81L394.81 61.31L394.69 61.19L394.44 57.69L394.31 57.56L394.31 56.44L394.19 56.31L394.06 54.06L393.94 53.94L393.94 52.81L393.81 52.69L393.81 52.19Z"/>
<line x1="392.00" y1="218.20" x2="393.50" y2="218.20" stroke="#cfcfcf" stroke-width="0.5" />
<text x="388.60" y="219.78" font-size="4.4" text-anchor="end" font-weight="normal" fill="#2a2a2a" >0</text>
<line x1="392.00" y1="193.15" x2="393.50" y2="193.15" stroke="#cfcfcf" stroke-width="0.5" />
<text x="388.60" y="194.73" font-size="4.4" text-anchor="end" font-weight="normal" fill="#2a2a2a" >100</text>
<line x1="392.00" y1="168.10" x2="393.50" y2="168.10" stroke="#cfcfcf" stroke-width="0.5" />
<text x="388.60" y="169.68" font-size="4.4" text-anchor="end" font-weight="normal" fill="#2a2a2a" >200</text>
<line x1="392.00" y1="143.05" x2="393.50" y2="143.05" stroke="#cfcfcf" stroke-width="0.5" />
<text x="388.60" y="144.63" font-size="4.4" text-anchor="end" font-weight="normal" fill="#2a2a2a" >300</text>
<line x1="392.00" y1="118.00" x2="393.50" y2="118.00" stroke="#cfcfcf" stroke-width="0.5" />
<text x="388.60" y="119.58" font-size="4.4" text-anchor="end" font-weight="normal" fill="#2a2a2a" >400</text>
<line x1="392.00" y1="92.95" x2="393.50" y2="92.95" stroke="#cfcfcf" stroke-width="0.5" />
<text x="388.60" y="94.53" font-size="4.4" text-anchor="end" font-weight="normal" fill="#2a2a2a" >500</text>
<line x1="392.00" y1="67.90" x2="393.50" y2="67.90" stroke="#cfcfcf" stroke-width="0.5" />
<text x="388.60" y="69.48" font-size="4.4" text-anchor="end" font-weight="normal" fill="#2a2a2a" >600</text>
<line x1="392.00" y1="42.85" x2="393.50" y2="42.85" stroke="#cfcfcf" stroke-width="0.5" />
<text x="388.60" y="44.43" font-size="4.4" text-anchor="end" font-weight="normal" fill="#2a2a2a" >700</text>
<text x="393.50" y="224.89" font-size="3.6" text-anchor="middle" font-weight="normal" fill="#2a2a2a" >0</text>
<text x="403.12" y="224.89" font-size="3.6" text-anchor="middle" font-weight="normal" fill="#2a2a2a" >1</text>
<text x="412.75" y="224.89" font-size="3.6" text-anchor="middle" font-weight="normal" fill="#2a2a2a" >2</text>
<text x="422.38" y="224.89" font-size="3.6" text-anchor="middle" font-weight="normal" fill="#2a2a2a" >3</text>
<text x="432.00" y="224.89" font-size="3.6" text-anchor="middle" font-weight="normal" fill="#2a2a2a" >4</text>
<text x="441.62" y="224.89" font-size="3.6" text-anchor="middle" font-weight="normal" fill="#2a2a2a" >5</text>
<text x="451.25" y="224.89" font-size="3.6" text-anchor="middle" font-weight="normal" fill="#2a2a2a" >6</text>
<text x="460.88" y="224.89" font-size="3.6" text-anchor="middle" font-weight="normal" fill="#2a2a2a" >7</text>
<text x="470.50" y="224.89" font-size="3.6" text-anchor="middle" font-weight="normal" fill="#2a2a2a" >8</text>
<text x="480.12" y="224.89" font-size="3.6" text-anchor="middle" font-weight="normal" fill="#2a2a2a" >9</text>
<text x="489.75" y="224.89" font-size="3.6" text-anchor="middle" font-weight="normal" fill="#2a2a2a" >10</text>
<text x="499.38" y="224.89" font-size="3.6" text-anchor="middle" font-weight="normal" fill="#2a2a2a" >11</text>
<text x="509.00" y="224.89" font-size="3.6" text-anchor="middle" font-weight="normal" fill="#2a2a2a" >12</text>
<text x="518.62" y="224.89" font-size="3.6" text-anchor="middle" font-weight="normal" fill="#2a2a2a" >13</text>
<text x="528.25" y="224.89" font-size="3.6" text-anchor="middle" font-weight="normal" fill="#2a2a2a" >14</text>
<text x="537.88" y="224.89" font-size="3.6" text-anchor="middle" font-weight="normal" fill="#2a2a2a" >15</text>
<text x="547.50" y="224.89" font-size="3.6" text-anchor="middle" font-weight="normal" fill="#2a2a2a" >16</text>
<text x="557.12" y="224.89" font-size="3.6" text-anchor="middle" font-weight="normal" fill="#2a2a2a" >17</text>
<text x="566.75" y="224.89" font-size="3.6" text-anchor="middle" font-weight="normal" fill="#2a2a2a" >18</text>
<text x="576.38" y="224.89" font-size="3.6" text-anchor="middle" font-weight="normal" fill="#2a2a2a" >19</text>
<text x="586.00" y="224.89" font-size="3.6" text-anchor="middle" font-weight="normal" fill="#2a2a2a" >20</text>
<text x="595.62" y="224.89" font-size="3.6" text-anchor="middle" font-weight="normal" fill="#2a2a2a" >21</text>
<text x="605.25" y="224.89" font-size="3.6" text-anchor="middle" font-weight="normal" fill="#2a2a2a" >22</text>
<text x="614.88" y="224.89" font-size="3.6" text-anchor="middle" font-weight="normal" fill="#2a2a2a" >23</text>
<text x="624.50" y="224.89" font-size="3.6" text-anchor="middle" font-weight="normal" fill="#2a2a2a" >24</text>
<text x="634.12" y="224.89" font-size="3.6" text-anchor="middle" font-weight="normal" fill="#2a2a2a" >25</text>
<text x="643.75" y="224.89" font-size="3.6" text-anchor="middle" font-weight="normal" fill="#2a2a2a" >26</text>
<text x="653.38" y="224.89" font-size="3.6" text-anchor="middle" font-weight="normal" fill="#2a2a2a" >27</text>
<text x="663.00" y="224.89" font-size="3.6" text-anchor="middle" font-weight="normal" fill="#2a2a2a" >28</text>
<line x1="663.20" y1="218.20" x2="664.50" y2="218.20" stroke="#cfcfcf" stroke-width="0.5" />
<text x="665.30" y="219.42" font-size="3.4" text-anchor="start" font-weight="normal" fill="#2a2a2a" >0</text>
<line x1="663.20" y1="214.26" x2="664.50" y2="214.26" stroke="#cfcfcf" stroke-width="0.5" />
<text x="665.30" y="215.48" font-size="3.4" text-anchor="start" font-weight="normal" fill="#2a2a2a" >4</text>
<line x1="663.20" y1="210.32" x2="664.50" y2="210.32" stroke="#cfcfcf" stroke-width="0.5" />
<text x="665.30" y="211.54" font-size="3.4" text-anchor="start" font-weight="normal" fill="#2a2a2a" >8</text>
<line x1="663.20" y1="206.38" x2="664.50" y2="206.38" stroke="#cfcfcf" stroke-width="0.5" />
<text x="665.30" y="207.60" font-size="3.4" text-anchor="start" font-weight="normal" fill="#2a2a2a" >12</text>
<line x1="663.20" y1="202.44" x2="664.50" y2="202.44" stroke="#cfcfcf" stroke-width="0.5" />
<text x="665.30" y="203.66" font-size="3.4" text-anchor="start" font-weight="normal" fill="#2a2a2a" >16</text>
<line x1="663.20" y1="198.50" x2="664.50" y2="198.50" stroke="#cfcfcf" stroke-width="0.5" />
<text x="665.30" y="199.72" font-size="3.4" text-anchor="start" font-weight="normal" fill="#2a2a2a" >20</text>
<line x1="663.20" y1="194.56" x2="664.50" y2="194.56" stroke="#cfcfcf" stroke-width="0.5" />
<text x="665.30" y="195.78" font-size="3.4" text-anchor="start" font-weight="normal" fill="#2a2a2a" >24</text>
<line x1="663.20" y1="190.62" x2="664.50" y2="190.62" stroke="#cfcfcf" stroke-width="0.5" />
<text x="665.30" y="191.84" font-size="3.4" text-anchor="start" font-weight="normal" fill="#2a2a2a" >28</text>
<text x="342.70" y="15.10" font-size="19.8" text-anchor="start" font-weight="bold" fill="#000" >b</text>
<text x="509.00" y="7.70" font-size="9.5" text-anchor="start" font-weight="bold" fill="#111" textLength="52.30" lengthAdjust="spacingAndGlyphs" >DAS28 = 5.1</text>
<text x="360.50" y="24.40" font-size="8.4" text-anchor="start" font-weight="normal" fill="#2b2b2b" textLength="14.30" lengthAdjust="spacingAndGlyphs" >ESR</text>
<text x="527.60" y="240.20" font-size="8.4" text-anchor="start" font-weight="normal" fill="#2b2b2b" textLength="13.20" lengthAdjust="spacingAndGlyphs" >SJC</text>
<text x="677.30" y="207.20" font-size="8.4" text-anchor="start" font-weight="normal" fill="#2b2b2b" textLength="11.80" lengthAdjust="spacingAndGlyphs" >TJC</text>
<rect x="677.80" y="75.60" width="3.60" height="3.60" fill="rgb(150,180,205)"/>
<text x="683.70" y="79.76" font-size="6.6" text-anchor="start" font-weight="normal" fill="#333" >600-700</text>
<rect x="677.80" y="88.20" width="3.60" height="3.60" fill="rgb(190,8,8)"/>
<text x="683.70" y="92.36" font-size="6.6" text-anchor="start" font-weight="normal" fill="#333" >500-600</text>
<rect x="677.80" y="101.20" width="3.60" height="3.60" fill="rgb(12,12,150)"/>
<text x="683.70" y="105.36" font-size="6.6" text-anchor="start" font-weight="normal" fill="#333" >400-500</text>
<rect x="677.80" y="113.80" width="3.60" height="3.60" fill="rgb(200,110,45)"/>
<text x="683.70" y="117.96" font-size="6.6" text-anchor="start" font-weight="normal" fill="#333" >300-400</text>
<rect x="677.80" y="126.50" width="3.60" height="3.60" fill="rgb(48,10,58)"/>
<text x="683.70" y="130.66" font-size="6.6" text-anchor="start" font-weight="normal" fill="#333" >200-300</text>
<rect x="677.80" y="139.20" width="3.60" height="3.60" fill="rgb(228,226,36)"/>
<text x="683.70" y="143.36" font-size="6.6" text-anchor="start" font-weight="normal" fill="#333" >100-200</text>
<rect x="677.80" y="151.80" width="3.60" height="3.60" fill="rgb(74,124,180)"/>
<text x="683.70" y="155.96" font-size="6.6" text-anchor="start" font-weight="normal" fill="#333" >0-100</text>
<line x1="28.36" y1="423.91" x2="258.68" y2="418.75" stroke="#e0e0e0" stroke-width="0.5" />
<line x1="258.68" y1="418.75" x2="277.01" y2="446.47" stroke="#e0e0e0" stroke-width="0.5" />
<line x1="27.83" y1="402.79" x2="259.16" y2="397.96" stroke="#e0e0e0" stroke-width="0.5" />
<line x1="259.16" y1="397.96" x2="277.63" y2="423.97" stroke="#e0e0e0" stroke-width="0.5" />
<line x1="27.28" y1="381.49" x2="259.65" y2="376.98" stroke="#e0e0e0" stroke-width="0.5" />
<line x1="259.65" y1="376.98" x2="278.25" y2="401.25" stroke="#e0e0e0" stroke-width="0.5" />
<line x1="26.74" y1="359.99" x2="260.15" y2="355.81" stroke="#e0e0e0" stroke-width="0.5" />
<line x1="260.15" y1="355.81" x2="278.88" y2="378.31" stroke="#e0e0e0" stroke-width="0.5" />
<line x1="26.19" y1="338.30" x2="260.65" y2="334.46" stroke="#e0e0e0" stroke-width="0.5" />
<line x1="260.65" y1="334.46" x2="279.51" y2="355.15" stroke="#e0e0e0" stroke-width="0.5" />
<line x1="25.63" y1="316.41" x2="261.15" y2="312.91" stroke="#e0e0e0" stroke-width="0.5" />
<line x1="261.15" y1="312.91" x2="280.15" y2="331.77" stroke="#e0e0e0" stroke-width="0.5" />
<line x1="25.07" y1="294.32" x2="261.65" y2="291.17" stroke="#e0e0e0" stroke-width="0.5" />
<line x1="261.65" y1="291.17" x2="280.80" y2="308.15" stroke="#e0e0e0" stroke-width="0.5" />
<line x1="276.40" y1="468.76" x2="280.80" y2="308.15" stroke="#cfcfcf" stroke-width="0.5" />
<line x1="258.20" y1="439.37" x2="276.40" y2="468.76" stroke="#cfcfcf" stroke-width="0.5" />
<line x1="26.99" y1="475.24" x2="276.40" y2="468.76" stroke="#cfcfcf" stroke-width="0.5" />
<line x1="28.90" y1="444.83" x2="26.99" y2="475.24" stroke="#cfcfcf" stroke-width="0.5" />
<line x1="276.40" y1="468.76" x2="276.40" y2="470.36" stroke="#cfcfcf" stroke-width="0.5" />
<line x1="267.64" y1="468.99" x2="267.64" y2="470.59" stroke="#cfcfcf" stroke-width="0.5" />
<line x1="258.88" y1="469.22" x2="258.88" y2="470.82" stroke="#cfcfcf" stroke-width="0.5" />
<line x1="250.10" y1="469.44" x2="250.10" y2="471.04" stroke="#cfcfcf" stroke-width="0.5" />
<line x1="241.31" y1="469.67" x2="241.31" y2="471.27" stroke="#cfcfcf" stroke-width="0.5" />
<line x1="232.50" y1="469.90" x2="232.50" y2="471.50" stroke="#cfcfcf" stroke-width="0.5" />
<line x1="223.69" y1="470.13" x2="223.69" y2="471.73" stroke="#cfcfcf" stroke-width="0.5" />
<line x1="214.87" y1="470.36" x2="214.87" y2="471.96" stroke="#cfcfcf" stroke-width="0.5" />
<line x1="206.03" y1="470.59" x2="206.03" y2="472.19" stroke="#cfcfcf" stroke-width="0.5" />
<line x1="197.19" y1="470.82" x2="197.19" y2="472.42" stroke="#cfcfcf" stroke-width="0.5" />
<line x1="188.33" y1="471.05" x2="188.33" y2="472.65" stroke="#cfcfcf" stroke-width="0.5" />
<line x1="179.46" y1="471.28" x2="179.46" y2="472.88" stroke="#cfcfcf" stroke-width="0.5" />
<line x1="170.58" y1="471.51" x2="170.58" y2="473.11" stroke="#cfcfcf" stroke-width="0.5" />
<line x1="161.69" y1="471.74" x2="161.69" y2="473.34" stroke="#cfcfcf" stroke-width="0.5" />
<line x1="152.79" y1="471.97" x2="152.79" y2="473.57" stroke="#cfcfcf" stroke-width="0.5" />
<line x1="143.88" y1="472.20" x2="143.88" y2="473.80" stroke="#cfcfcf" stroke-width="0.5" />
<line x1="134.95" y1="472.43" x2="134.95" y2="474.03" stroke="#cfcfcf" stroke-width="0.5" />
<line x1="126.02" y1="472.66" x2="126.02" y2="474.26" stroke="#cfcfcf" stroke-width="0.5" />
<line x1="117.07" y1="472.90" x2="117.07" y2="474.50" stroke="#cfcfcf" stroke-width="0.5" />
<line x1="108.12" y1="473.13" x2="108.12" y2="474.73" stroke="#cfcfcf" stroke-width="0.5" />
<line x1="99.15" y1="473.36" x2="99.15" y2="474.96" stroke="#cfcfcf" stroke-width="0.5" />
<line x1="90.17" y1="473.60" x2="90.17" y2="475.20" stroke="#cfcfcf" stroke-width="0.5" />
<line x1="81.18" y1="473.83" x2="81.18" y2="475.43" stroke="#cfcfcf" stroke-width="0.5" />
<line x1="72.17" y1="474.06" x2="72.17" y2="475.66" stroke="#cfcfcf" stroke-width="0.5" />
<line x1="63.16" y1="474.30" x2="63.16" y2="475.90" stroke="#cfcfcf" stroke-width="0.5" />
<line x1="54.13" y1="474.53" x2="54.13" y2="476.13" stroke="#cfcfcf" stroke-width="0.5" />
<line x1="45.10" y1="474.77" x2="45.10" y2="476.37" stroke="#cfcfcf" stroke-width="0.5" />
<line x1="36.05" y1="475.00" x2="36.05" y2="476.60" stroke="#cfcfcf" stroke-width="0.5" />
<line x1="26.99" y1="475.24" x2="26.99" y2="476.84" stroke="#cfcfcf" stroke-width="0.5" />
<path fill="#4071a8" fill-rule="evenodd" d="M277.06 450.69L276.31 449.19L275.69 447.19L274.94 445.56L274.31 443.44L273.56 441.81L273.31 440.69L272.44 439.81L271.19 439.06L268.56 436.81L267.81 436.44L264.06 433.19L262.19 431.94L259.19 429.19L258.81 429.06L255.69 426.44L255.56 426.19L254.94 425.81L254.06 425.56L253.81 425.31L253.44 425.31L251.06 424.44L249.81 424.19L249.56 423.94L247.56 423.44L244.56 422.31L241.19 421.81L241.06 421.69L239.56 421.56L238.94 421.31L238.44 421.31L236.44 420.81L232.69 420.56L232.56 420.44L230.81 420.31L230.69 420.19L212.69 419.81L209.06 421.44L208.06 421.69L207.69 421.94L207.06 422.06L206.69 422.31L206.06 422.44L205.69 422.69L204.69 422.94L204.31 423.19L203.69 423.31L201.19 424.31L200.81 424.31L199.56 424.81L199.19 424.81L193.31 426.69L189.31 427.69L188.81 427.69L185.19 428.69L184.69 428.69L181.44 429.44L180.81 429.44L180.69 429.56L180.19 429.56L180.06 429.69L179.56 429.69L176.31 430.44L174.31 430.69L172.94 431.06L172.31 431.06L170.19 431.56L167.31 431.94L167.19 432.06L166.44 432.06L165.56 432.31L163.94 432.44L163.06 432.69L162.31 432.69L161.44 432.94L160.56 432.94L159.69 433.19L157.94 433.31L157.81 433.44L157.06 433.44L156.94 433.56L156.19 433.56L155.19 433.81L154.31 433.81L153.31 434.06L150.56 434.31L150.44 434.44L149.44 434.44L149.31 434.56L145.31 434.94L145.19 435.06L144.19 435.06L144.06 435.19L143.19 435.19L143.06 435.31L140.81 435.44L140.69 435.56L139.69 435.56L139.56 435.69L138.56 435.69L138.44 435.81L133.44 436.19L133.31 436.31L132.06 436.31L131.94 436.44L130.69 436.44L130.56 436.56L129.31 436.56L129.19 436.69L127.81 436.69L127.69 436.81L122.44 437.19L122.31 437.31L121.06 437.31L120.94 437.44L116.44 437.69L116.31 437.81L114.69 437.81L114.56 437.94L113.06 437.94L112.94 438.06L111.31 438.06L111.19 438.19L106.44 438.44L106.31 438.56L104.81 438.56L104.69 438.69L102.94 438.69L102.81 438.81L96.69 439.19L96.56 439.31L90.94 439.56L90.81 439.69L88.81 439.69L88.69 439.81L86.44 439.81L86.31 439.94L80.56 440.19L80.44 440.31L78.19 440.31L78.06 440.44L69.94 440.69L69.81 440.81L68.19 440.81L68.06 440.94L61.56 441.19L61.44 441.31L59.19 441.31L59.06 441.44L53.31 441.56L53.19 441.69L50.94 441.69L50.81 441.81L48.06 441.81L47.94 441.94L44.94 441.94L44.81 442.06L36.69 442.31L36.56 442.44L34.31 442.44L34.19 442.56L28.69 442.69L28.69 444.94L28.56 445.06L28.44 449.44L28.31 449.56L28.19 453.81L28.06 453.94L28.06 455.94L27.94 456.06L27.56 464.94L27.44 465.06L27.44 466.06L27.31 466.19L27.06 473.06L26.94 473.19L26.81 475.06L27.81 475.06L27.94 474.94L31.56 474.94L31.69 474.81L40.69 474.69L40.81 474.56L49.69 474.44L49.81 474.31L54.94 474.31L55.06 474.19L58.81 474.19L58.94 474.06L63.94 474.06L64.06 473.94L67.81 473.94L67.94 473.81L72.94 473.81L73.06 473.69L76.81 473.69L76.94 473.56L81.94 473.56L82.06 473.44L85.81 473.44L85.94 473.31L90.94 473.31L91.06 473.19L96.31 473.06L96.44 472.94L100.06 472.94L100.19 472.81L103.69 472.81L103.81 472.69L108.81 472.69L108.94 472.56L112.69 472.56L112.81 472.44L117.81 472.44L117.94 472.31L121.69 472.31L121.81 472.19L126.81 472.19L126.94 472.06L132.06 471.94L132.19 471.81L139.56 471.69L139.69 471.56L144.69 471.56L144.81 471.44L149.94 471.31L150.06 471.19L153.56 471.19L153.69 471.06L158.81 470.94L158.94 470.81L166.19 470.69L166.31 470.56L171.19 470.56L171.31 470.44L176.56 470.31L176.69 470.19L180.06 470.19L180.19 470.06L185.44 469.94L185.56 469.81L188.94 469.81L189.06 469.69L192.81 469.56L192.94 469.44L197.81 469.31L197.94 469.19L199.56 469.19L199.69 469.06L206.69 468.81L206.81 468.69L212.81 468.44L212.94 468.31L215.56 468.31L215.69 468.19L216.81 468.19L216.94 468.06L218.56 468.06L218.69 467.94L220.31 467.94L220.44 467.81L222.06 467.81L222.19 467.69L224.31 467.69L224.44 467.56L225.56 467.56L225.69 467.44L229.19 467.31L229.31 467.19L230.94 467.19L231.06 467.06L233.06 467.06L234.06 466.81L237.81 466.56L237.94 466.44L239.06 466.44L239.19 466.31L240.31 466.31L240.44 466.19L241.94 466.19L242.06 466.06L243.69 465.94L243.81 465.81L247.06 465.56L247.19 465.44L249.19 465.31L249.31 465.19L250.56 465.19L251.06 464.94L251.69 464.94L251.81 464.81L254.44 464.44L255.19 464.19L255.81 464.19L256.56 463.94L257.19 463.94L257.94 463.69L259.31 463.56L260.19 463.19L261.06 463.06L261.56 462.81L262.44 462.69L262.94 462.44L267.94 461.19L277.06 451.06Z"/>
<path fill="#8a8814" fill-rule="evenodd" d="M212.94 419.69L212.94 419.94L216.19 419.94L216.31 420.06L221.81 420.06L221.94 420.19L230.44 420.31L230.56 420.44L231.44 420.44L232.44 420.69L236.19 420.94L236.31 421.06L236.94 421.06L238.19 421.44L238.69 421.44L239.31 421.69L240.81 421.81L240.94 421.94L244.31 422.44L247.31 423.56L249.31 424.06L249.56 424.31L249.94 424.31L253.19 425.44L253.56 425.44L253.81 425.69L254.69 425.94L255.31 426.31L256.44 427.44L260.56 430.69L261.94 432.06L263.81 433.31L265.56 434.94L266.19 435.31L267.56 436.56L268.31 436.94L270.94 439.19L272.19 439.94L272.56 440.44L273.19 440.69L273.19 440.31L272.56 438.69L272.56 438.31L272.19 437.44L271.81 435.81L270.56 432.31L270.44 431.44L269.56 428.69L267.81 421.69L267.81 421.19L267.19 418.94L266.81 416.19L266.69 416.06L266.69 415.56L266.56 415.44L266.56 414.94L266.44 414.81L266.44 414.31L265.69 411.06L265.69 410.44L265.44 409.69L264.94 405.81L263.19 404.81L261.94 404.31L261.56 403.94L260.56 403.56L258.56 402.31L256.56 401.44L255.94 400.94L255.19 400.69L251.56 398.81L249.19 398.81L249.06 398.69L246.69 398.69L246.56 398.56L244.94 398.56L244.81 398.44L240.31 398.31L234.69 405.19L226.56 412.06L218.19 417.31Z"/>
<path fill="#23092b" fill-rule="evenodd" d="M251.44 377.19L242.81 395.31L240.69 397.81L240.44 398.44L244.56 398.56L244.69 398.69L248.81 398.81L248.94 398.94L251.31 398.94L253.94 400.19L254.94 400.81L255.69 401.06L256.31 401.56L257.56 402.06L259.19 403.06L259.69 403.19L260.31 403.69L261.31 404.06L261.69 404.44L262.94 404.94L264.56 405.94L264.81 405.94L264.44 402.31L264.31 402.19L264.31 401.31L264.19 401.19L264.19 400.31L264.06 400.19L263.94 398.19L263.81 398.06L263.81 397.19L263.69 397.06L263.69 396.19L263.56 396.06L263.56 395.19L263.44 395.06L263.44 394.19L263.31 394.06L263.31 393.19L263.19 393.06L263.19 392.06L263.06 391.94L262.19 380.19L260.44 379.56L259.69 379.06L258.56 378.94L258.19 378.69L256.69 378.31L256.56 378.06L255.44 377.69L254.06 377.69L252.19 377.19Z"/>
<path fill="#784118" fill-rule="evenodd" d="M254.06 355.94L251.44 377.31L252.56 377.44L253.81 377.81L255.19 377.81L256.31 378.19L256.44 378.44L257.19 378.56L258.31 379.06L259.44 379.19L260.19 379.69L262.19 380.31L261.94 373.94L261.81 373.81L261.81 370.94L261.69 370.81L261.31 357.06L260.69 356.81L259.69 356.69L259.31 356.44L256.44 356.31L254.94 355.94Z"/>
<path fill="#0a0a65" fill-rule="evenodd" d="M256.81 334.56L254.06 356.06L254.69 356.06L256.19 356.44L259.06 356.56L259.44 356.81L261.31 357.19L261.19 349.56L261.06 349.44L261.19 334.94L261.06 334.81L259.81 334.81L259.69 334.69L258.44 334.69L258.31 334.56Z"/>
<path fill="#7c0808" fill-rule="evenodd" d="M259.56 312.94L256.81 334.69L258.06 334.69L258.19 334.81L259.44 334.81L259.56 334.94L260.81 334.94L261.19 335.06L261.44 313.06L261.31 312.94Z"/>
<path fill="#5b6e80" fill-rule="evenodd" d="M261.56 299.06L261.31 299.06L261.19 299.56L261.19 300.44L261.06 300.56L261.06 301.44L260.94 301.56L260.94 302.44L260.81 302.56L260.81 303.44L260.69 303.56L260.56 305.44L260.31 306.44L260.31 307.31L260.19 307.44L260.19 308.31L260.06 308.44L260.06 309.31L259.94 309.44L259.56 313.06L261.06 313.06L261.44 313.19Z"/>
<path fill="#284669" fill-rule="evenodd" d="M254.81 425.81L255.06 427.31L255.31 427.69L255.69 429.69L256.19 431.19L256.19 431.81L256.44 432.19L256.44 432.56L256.81 433.44L256.81 433.94L257.06 434.31L257.44 435.81L257.69 436.19L258.06 437.69L258.31 438.06L258.56 439.56L259.19 440.94L259.19 441.31L259.56 441.94L259.81 442.94L260.19 443.56L260.44 444.56L260.81 445.19L261.06 446.06L261.56 446.06L267.44 436.31L267.44 435.81L265.94 434.69L264.19 433.06L262.31 431.81L260.94 430.44L256.81 427.19L255.69 426.06L255.31 425.81Z"/>
<path fill="#2a4a6f" fill-rule="evenodd" d="M266.94 435.94L261.19 445.56L261.19 446.44L262.69 449.94L263.06 451.19L264.06 453.06L264.06 453.31L265.06 455.31L265.69 457.06L267.06 459.69L267.31 460.56L267.69 461.19L268.19 461.19L277.19 451.19L277.19 450.56L276.44 449.06L275.81 447.06L275.06 445.44L274.44 443.31L273.69 441.69L273.44 440.56L272.56 439.69L271.31 438.94L268.69 436.69L268.31 436.56L267.56 435.94Z"/>
<path fill="#3b689c" fill-rule="evenodd" d="M244.44 422.31L244.44 423.19L244.56 423.31L244.94 426.31L245.94 429.94L246.31 431.94L246.94 433.69L247.19 435.06L248.06 437.44L248.31 438.69L249.56 442.06L249.69 442.19L250.19 442.19L258.44 437.81L258.44 436.81L257.81 435.31L257.44 433.81L257.19 433.44L257.19 432.94L256.81 432.06L255.31 425.94L255.06 425.69L254.19 425.44L253.94 425.19L253.56 425.19L251.19 424.31L249.94 424.06L249.69 423.81L247.69 423.31L245.06 422.31Z"/>
<path fill="#3d6ca2" fill-rule="evenodd" d="M235.06 420.69L235.06 421.44L235.19 421.56L236.19 428.19L236.31 428.31L236.44 429.44L236.69 430.06L236.81 431.19L237.31 432.81L237.69 434.81L238.56 437.06L239.31 440.06L240.06 441.69L240.56 443.56L241.19 444.81L241.69 446.56L242.94 449.06L243.44 450.81L244.06 451.94L244.81 451.94L252.44 449.94L253.19 451.19L253.81 452.94L254.44 454.06L254.44 454.31L255.06 455.44L255.06 455.69L255.69 456.81L255.69 457.06L256.31 458.19L256.31 458.44L256.94 459.56L257.56 461.19L258.94 463.69L259.44 463.69L260.31 463.31L261.19 463.19L261.69 462.94L262.56 462.81L263.06 462.56L268.06 461.31L268.06 460.69L267.69 460.06L267.44 459.19L266.06 456.56L265.44 454.81L263.44 450.69L263.06 449.44L261.94 446.94L261.81 446.31L260.81 444.06L260.56 443.06L260.19 442.44L259.94 441.44L259.56 440.81L259.56 440.44L258.94 439.06L258.94 438.56L258.56 437.31L258.06 437.31L250.06 441.56L249.81 441.31L249.69 440.69L249.06 439.31L248.44 437.31L248.44 436.94L247.56 434.56L247.06 432.31L246.69 431.44L246.31 429.44L245.31 425.81L244.81 422.31L242.69 421.81L239.69 421.44L237.31 420.81ZM226.44 422.69L227.06 422.69L230.81 420.56L230.81 420.06L226.44 420.06L226.44 421.56L226.56 421.69Z"/>
<path fill="#4071a8" fill-rule="evenodd" d="M259.31 463.19L257.94 460.69L257.94 460.44L257.31 459.31L257.31 459.06L256.69 457.94L256.69 457.69L256.06 456.56L256.06 456.31L255.44 455.19L255.44 454.94L254.81 453.81L254.81 453.56L254.19 452.44L254.19 452.19L252.94 449.44L252.31 449.44L251.81 449.69L244.81 451.44L244.31 451.31L243.81 450.31L243.31 448.56L242.06 446.06L241.56 444.31L240.94 443.06L240.44 441.19L239.69 439.56L238.94 436.56L238.06 434.31L237.69 432.31L237.19 430.69L237.06 429.56L236.81 428.94L236.56 427.06L236.31 426.31L236.31 425.69L236.19 425.56L236.19 424.94L236.06 424.81L236.06 424.19L235.94 424.06L235.56 421.06L235.31 420.56L232.81 420.44L231.81 420.19L230.19 420.19L227.06 421.94L226.94 421.81L226.81 420.06L226.69 419.94L212.56 419.69L209.81 420.94L210.19 428.69L210.81 428.69L217.19 426.56L218.31 426.31L218.56 426.81L218.69 428.81L218.44 429.06L217.69 429.31L217.31 429.31L216.81 429.56L215.94 429.69L215.44 429.94L215.06 429.94L214.56 430.19L213.69 430.31L213.19 430.56L210.69 431.19L210.69 432.06L210.94 432.94L210.94 433.31L210.69 433.56L202.81 435.06L202.81 435.69L203.19 436.81L202.81 437.06L200.69 437.31L199.81 437.56L199.06 437.56L198.94 437.69L198.19 437.69L197.31 437.94L196.56 437.94L195.69 438.19L194.69 438.19L193.81 438.44L191.81 438.56L191.69 438.69L187.69 439.06L187.56 439.19L186.31 439.19L185.44 439.44L180.81 439.81L180.69 439.94L178.06 440.06L177.94 440.19L177.06 440.19L176.94 440.31L175.69 440.31L175.56 440.44L174.31 440.44L174.19 440.56L172.94 440.56L172.81 440.69L171.56 440.69L171.44 440.81L170.81 440.81L170.56 440.56L170.31 439.31L169.44 439.31L169.31 439.44L168.44 439.44L168.31 439.56L167.06 439.56L166.94 439.69L165.69 439.69L165.56 439.81L164.31 439.81L164.19 439.94L162.94 439.94L162.81 440.06L161.19 440.06L161.06 440.19L159.94 440.19L159.81 440.31L156.56 440.44L156.44 440.56L154.94 440.56L154.81 440.69L152.94 440.69L152.81 440.81L151.69 440.81L151.56 440.94L148.31 441.06L148.19 441.19L146.69 441.19L146.56 441.31L144.69 441.31L144.56 441.44L143.06 441.44L142.94 441.56L140.94 441.56L140.81 441.69L138.94 441.69L138.81 441.81L136.44 441.81L136.31 441.94L134.69 441.94L134.56 442.06L130.56 442.19L130.44 442.31L129.06 442.31L128.81 441.56L128.81 440.94L127.94 440.94L127.81 441.06L126.31 441.06L126.19 441.19L119.69 441.44L119.56 441.56L113.81 441.81L113.69 441.94L111.19 441.94L111.06 442.06L105.56 442.31L105.44 442.44L102.94 442.44L102.81 442.56L97.94 442.69L97.81 442.81L94.69 442.81L94.56 442.94L89.56 443.06L89.44 443.19L86.31 443.19L86.19 443.31L81.31 443.44L81.19 443.56L78.06 443.56L77.94 443.69L72.94 443.81L72.81 443.94L70.81 443.94L70.69 443.81L70.69 442.56L69.69 442.56L69.56 442.69L64.56 442.81L64.44 442.94L61.31 442.94L61.19 443.06L56.31 443.19L56.19 443.31L49.44 443.44L49.31 443.56L44.69 443.56L44.56 443.69L42.44 443.69L42.31 443.81L32.81 444.06L32.69 444.19L28.56 444.19L28.44 447.06L28.31 447.19L28.31 449.31L28.19 449.44L28.19 451.44L28.06 451.56L28.06 453.69L27.94 453.81L27.94 455.81L27.81 455.94L27.81 458.06L27.69 458.19L27.69 460.31L27.56 460.44L27.56 462.56L27.44 462.69L27.44 464.81L27.31 464.94L27.31 465.94L27.19 466.06L26.94 472.94L26.81 473.06L26.69 475.19L31.69 475.06L31.81 474.94L40.81 474.81L40.94 474.69L45.94 474.69L46.06 474.56L49.81 474.56L49.94 474.44L55.06 474.44L55.19 474.31L58.94 474.31L59.06 474.19L64.06 474.19L64.19 474.06L67.94 474.06L68.06 473.94L73.06 473.94L73.19 473.81L76.94 473.81L77.06 473.69L82.06 473.69L82.19 473.56L85.94 473.56L86.06 473.44L91.06 473.44L91.19 473.31L93.44 473.31L93.56 473.19L103.81 472.94L103.94 472.81L108.94 472.81L109.06 472.69L112.81 472.69L112.94 472.56L126.94 472.31L127.06 472.19L132.19 472.06L132.31 471.94L139.69 471.81L139.81 471.69L144.81 471.69L144.94 471.56L150.06 471.44L150.19 471.31L153.69 471.31L153.81 471.19L158.94 471.06L159.06 470.94L166.31 470.81L166.44 470.69L171.31 470.69L171.44 470.56L176.69 470.44L176.81 470.31L180.19 470.31L180.31 470.19L185.56 470.06L185.69 469.94L189.06 469.94L189.19 469.81L192.94 469.69L193.06 469.56L197.94 469.44L198.06 469.31L199.69 469.31L199.81 469.19L206.81 468.94L206.94 468.81L212.94 468.56L213.06 468.44L215.69 468.44L215.81 468.31L216.94 468.31L217.06 468.19L218.69 468.19L218.81 468.06L220.44 468.06L220.56 467.94L222.19 467.94L222.31 467.81L224.44 467.81L224.56 467.69L225.69 467.69L225.81 467.56L229.31 467.44L229.44 467.31L231.06 467.31L231.19 467.19L233.19 467.19L234.19 466.94L237.94 466.69L238.06 466.56L239.19 466.56L239.31 466.44L240.44 466.44L240.56 466.31L242.06 466.31L242.19 466.19L243.81 466.06L243.94 465.94L247.19 465.69L247.31 465.56L249.31 465.44L249.44 465.31L250.69 465.31L251.19 465.06L251.81 465.06L252.56 464.81L253.19 464.81L253.94 464.56L254.56 464.56L255.31 464.31L255.94 464.31L256.69 464.06L259.31 463.69Z"/>
<path fill="#4475ad" fill-rule="evenodd" d="M219.19 428.44L219.06 428.31L218.81 425.69L218.31 425.69L210.69 428.19L210.56 428.06L210.56 427.19L210.44 427.06L210.44 424.69L210.31 424.56L210.19 420.94L209.69 420.94L206.56 422.19L205.94 422.31L205.56 422.56L203.56 423.19L203.19 423.44L202.19 423.69L201.81 423.94L193.19 426.56L189.19 427.56L188.69 427.56L185.06 428.56L177.06 430.06L177.06 431.31L177.19 431.44L177.19 432.81L177.31 432.94L177.31 434.31L177.44 434.56L176.94 434.81L176.31 434.81L176.19 434.94L174.19 435.06L174.06 435.19L170.06 435.56L169.94 435.69L168.81 435.69L167.94 435.94L163.94 436.31L163.81 436.44L162.94 436.44L162.81 436.56L161.94 436.56L161.81 436.69L159.56 436.81L159.44 436.94L158.19 436.94L158.06 437.06L156.81 437.06L156.69 437.19L155.44 437.19L155.31 437.31L154.06 437.31L153.94 437.44L152.44 437.44L152.31 437.56L151.31 437.56L151.19 437.69L149.94 437.69L149.81 437.81L148.56 437.81L148.44 437.94L147.19 437.94L147.06 438.06L145.81 438.06L145.69 438.19L144.19 438.19L144.06 438.31L142.81 438.31L142.69 438.44L141.19 438.44L141.06 438.56L139.56 438.56L139.44 438.69L137.94 438.69L137.81 438.81L135.94 438.81L135.81 438.94L134.69 438.94L134.56 439.06L131.31 439.19L131.19 439.31L129.69 439.31L129.56 439.44L127.69 439.44L127.56 439.56L126.06 439.56L125.94 439.69L119.44 439.94L119.31 440.06L117.81 440.06L117.69 440.19L111.19 440.44L111.06 440.56L109.56 440.56L109.44 440.69L102.94 440.94L102.81 441.06L97.19 441.31L97.06 441.44L94.56 441.44L94.44 441.56L92.31 441.56L92.19 441.69L89.44 441.69L89.31 441.81L86.19 441.81L86.06 441.94L83.94 441.94L83.81 442.06L79.06 442.19L78.81 441.19L78.81 440.19L78.06 440.19L77.94 440.31L69.81 440.56L69.69 440.69L68.06 440.69L67.94 440.81L61.44 441.06L61.31 441.19L59.06 441.19L58.94 441.31L53.19 441.44L53.06 441.56L50.81 441.56L50.69 441.69L47.94 441.69L47.81 441.81L44.81 441.81L44.69 441.94L36.56 442.19L36.44 442.31L34.19 442.31L34.06 442.44L28.56 442.56L28.56 444.56L33.19 444.56L33.31 444.44L42.81 444.19L42.94 444.06L45.06 444.06L45.19 443.94L49.81 443.94L49.94 443.81L56.69 443.69L56.81 443.56L67.81 443.19L67.94 443.06L70.06 443.06L70.19 442.94L70.31 443.06L70.31 444.31L73.31 444.31L73.44 444.19L76.19 444.19L76.31 444.06L78.44 444.06L78.56 443.94L81.69 443.94L81.81 443.81L84.44 443.81L84.56 443.69L86.69 443.69L86.81 443.56L89.94 443.56L90.06 443.44L92.81 443.44L92.94 443.31L95.06 443.31L95.19 443.19L98.31 443.19L98.44 443.06L101.06 443.06L101.19 442.94L103.31 442.94L103.44 442.81L105.94 442.81L106.06 442.69L110.06 442.56L110.19 442.44L111.56 442.44L111.69 442.31L114.19 442.31L114.31 442.19L116.31 442.19L116.44 442.06L118.31 442.06L118.44 441.94L120.06 441.94L120.19 441.81L122.56 441.81L122.69 441.69L126.69 441.56L126.81 441.44L128.31 441.44L128.44 441.56L128.56 442.69L130.94 442.69L131.06 442.56L133.06 442.56L133.19 442.44L135.06 442.44L135.19 442.31L136.81 442.31L136.94 442.19L139.31 442.19L139.44 442.06L141.31 442.06L141.44 441.94L143.44 441.94L143.56 441.81L145.06 441.81L145.19 441.69L150.44 441.44L150.56 441.31L152.06 441.31L152.19 441.19L153.31 441.19L153.44 441.06L155.31 441.06L155.44 440.94L156.94 440.94L157.06 440.81L160.31 440.69L160.44 440.56L161.56 440.56L161.69 440.44L163.31 440.44L163.44 440.31L164.69 440.31L164.81 440.19L166.06 440.19L166.19 440.06L167.44 440.06L167.56 439.94L168.81 439.94L168.94 439.81L169.81 439.81L170.06 440.19L170.31 441.19L171.94 441.19L172.06 441.06L173.31 441.06L173.44 440.94L174.69 440.94L174.81 440.81L176.06 440.81L176.19 440.69L177.44 440.69L177.56 440.56L178.44 440.56L178.56 440.44L179.94 440.44L180.06 440.31L181.19 440.31L181.31 440.19L183.56 440.06L183.69 439.94L184.69 439.94L184.81 439.81L185.94 439.81L186.81 439.56L189.19 439.44L189.31 439.31L190.19 439.31L190.31 439.19L191.19 439.19L191.31 439.06L192.19 439.06L192.31 438.94L194.31 438.81L195.19 438.56L196.19 438.56L197.06 438.31L197.81 438.31L198.69 438.06L199.44 438.06L199.56 437.94L200.31 437.94L200.44 437.81L203.31 437.44L203.69 437.31L203.69 436.81L203.31 435.69L203.44 435.44L211.19 433.94L211.44 433.81L211.44 433.19L211.19 432.31L211.19 431.69L211.31 431.56L219.19 429.31Z"/>
<path fill="#4b7ab0" fill-rule="evenodd" d="M177.56 430.94L177.44 430.81L177.44 430.06L176.94 430.06L176.81 430.19L174.19 430.56L174.06 430.69L172.19 430.94L171.44 431.19L170.81 431.19L170.06 431.44L169.44 431.44L169.31 431.56L168.69 431.56L167.06 431.94L166.31 431.94L165.44 432.19L164.69 432.19L164.56 432.31L163.81 432.31L162.94 432.56L162.19 432.56L161.31 432.81L160.44 432.81L160.31 432.94L158.81 433.06L158.69 433.19L157.81 433.19L157.69 433.31L156.94 433.31L156.81 433.44L156.06 433.44L155.06 433.69L154.19 433.69L153.19 433.94L152.31 433.94L152.19 434.06L149.31 434.31L149.19 434.44L148.31 434.44L148.19 434.56L147.31 434.56L147.19 434.69L146.31 434.69L146.19 434.81L145.19 434.81L145.06 434.94L144.06 434.94L143.94 435.06L141.81 435.19L141.69 435.31L140.69 435.31L140.56 435.44L139.56 435.44L139.44 435.56L138.44 435.56L138.31 435.69L137.19 435.69L137.06 435.81L135.94 435.81L135.81 435.94L134.69 435.94L134.56 436.06L133.31 436.06L133.19 436.19L131.94 436.19L131.81 436.31L130.56 436.31L130.44 436.44L129.19 436.44L129.06 436.56L127.69 436.56L127.56 436.69L122.31 437.06L122.19 437.19L120.94 437.19L120.81 437.31L119.44 437.31L119.31 437.44L117.94 437.44L117.81 437.56L111.19 437.94L111.06 438.06L106.31 438.31L106.19 438.44L104.69 438.44L104.56 438.56L102.81 438.56L102.69 438.69L96.56 439.06L96.44 439.19L90.81 439.44L90.69 439.56L88.69 439.56L88.56 439.69L86.31 439.69L86.19 439.81L80.44 440.06L80.31 440.19L78.44 440.19L78.44 441.69L78.56 441.81L78.56 442.56L81.56 442.56L81.69 442.44L84.31 442.44L84.44 442.31L86.56 442.31L86.69 442.19L89.81 442.19L89.94 442.06L92.69 442.06L92.81 441.94L94.94 441.94L95.06 441.81L97.56 441.81L97.69 441.69L101.69 441.56L101.81 441.44L103.31 441.44L103.44 441.31L105.81 441.31L105.94 441.19L109.94 441.06L110.06 440.94L111.56 440.94L111.69 440.81L114.06 440.81L114.19 440.69L118.19 440.56L118.31 440.44L119.81 440.44L119.94 440.31L122.31 440.31L122.44 440.19L126.44 440.06L126.56 439.94L128.06 439.94L128.19 439.81L130.06 439.81L130.19 439.69L131.69 439.69L131.81 439.56L135.06 439.44L135.19 439.31L136.31 439.31L136.44 439.19L138.31 439.19L138.44 439.06L143.19 438.81L143.31 438.69L144.56 438.69L144.69 438.56L146.19 438.56L146.31 438.44L151.69 438.06L151.81 437.94L152.81 437.94L152.94 437.81L154.44 437.81L154.56 437.69L155.81 437.69L155.94 437.56L157.19 437.56L157.31 437.44L162.31 437.06L162.44 436.94L165.44 436.69L165.56 436.56L168.44 436.31L169.31 436.06L171.56 435.94L171.69 435.81L175.69 435.44L175.81 435.31L176.69 435.31L176.81 435.19L177.81 435.06Z"/>
<path fill="#8a8814" fill-rule="evenodd" d="M251.44 398.81L251.69 403.81L251.81 403.94L251.81 406.44L252.06 407.31L252.06 408.44L252.19 408.56L252.19 409.69L252.31 409.81L252.31 411.56L252.56 412.31L252.56 413.19L252.69 413.31L252.69 414.19L252.81 414.31L252.81 415.69L253.06 416.31L253.06 417.06L253.31 417.94L253.31 419.06L253.56 419.56L253.56 420.06L253.94 421.44L253.94 422.19L254.19 422.69L254.44 424.81L254.69 425.31L254.81 426.19L258.44 429.31L258.81 429.44L259.81 430.44L260.44 430.81L261.81 432.19L263.69 433.44L266.69 436.06L267.56 436.19L270.44 431.44L270.44 430.94L269.69 428.56L269.31 426.69L269.06 426.19L268.56 424.19L268.56 423.69L267.94 421.56L267.94 421.06L267.56 419.94L267.56 419.44L267.31 418.81L266.94 416.06L266.81 415.94L266.81 415.44L266.69 415.31L266.69 414.81L266.56 414.69L266.56 414.19L265.81 410.94L265.81 410.31L265.56 409.56L265.06 405.69L263.31 404.69L262.06 404.19L261.69 403.81L260.69 403.44L258.69 402.19L256.69 401.31L256.06 400.81L255.31 400.56L252.06 398.81Z"/>
<path fill="#929015" fill-rule="evenodd" d="M269.94 431.06L267.06 435.81L267.06 436.31L267.44 436.69L268.19 437.06L270.81 439.31L272.06 440.06L272.44 440.56L272.81 440.81L273.31 440.81L273.31 440.19L272.69 438.56L272.69 438.19L272.31 437.31L271.94 435.69L270.94 433.06L270.44 431.06Z"/>
<path fill="#cdca1d" fill-rule="evenodd" d="M242.81 398.31L242.94 408.06L243.06 408.19L243.06 410.44L242.94 410.56L242.94 411.06L243.19 411.94L243.19 413.19L243.31 413.31L243.31 414.56L243.44 414.69L243.44 416.56L243.69 417.31L243.94 420.19L244.06 420.31L244.06 420.94L244.19 421.06L244.19 421.69L244.44 422.69L247.19 423.69L249.19 424.19L249.44 424.44L249.81 424.44L253.06 425.56L253.44 425.56L253.69 425.81L254.69 426.19L255.19 426.19L255.19 425.44L255.06 425.31L254.69 422.81L254.31 421.69L254.31 420.94L254.19 420.81L253.81 418.31L253.69 418.19L253.69 417.44L253.56 417.31L253.31 414.81L253.19 414.69L253.19 413.81L253.06 413.69L253.06 412.81L252.94 412.69L252.94 411.81L252.81 411.69L252.81 410.56L252.69 410.44L252.69 409.31L252.56 409.19L252.56 408.06L252.44 407.94L252.44 406.81L252.31 406.69L252.31 405.19L252.19 405.06L252.19 403.44L252.06 403.31L252.06 401.56L251.94 401.44L251.81 398.81L251.69 398.69L249.31 398.69L249.19 398.56L246.81 398.56L246.69 398.44L245.06 398.44L244.94 398.31Z"/>
<path fill="#d5d21e" fill-rule="evenodd" d="M243.19 398.31L240.19 398.19L233.94 405.69L226.19 412.06L226.44 420.44L231.06 420.44L234.69 418.31L234.94 418.94L235.06 421.06L236.06 421.06L236.19 421.19L236.81 421.19L238.06 421.56L238.56 421.56L239.19 421.81L240.69 421.94L240.81 422.06L241.44 422.06L241.56 422.19L242.19 422.19L242.94 422.44L244.81 422.69L244.81 421.94L244.56 421.19L244.31 418.81L244.19 418.69L244.19 417.81L244.06 417.69L244.06 416.81L243.94 416.69L243.56 411.44L243.44 411.31Z"/>
<path fill="#ddda1f" fill-rule="evenodd" d="M235.19 417.69L234.69 417.69L230.44 420.06L230.44 420.56L235.44 421.06ZM226.56 412.19L225.81 412.31L218.06 417.19L212.81 419.56L212.81 420.06L221.69 420.19L221.81 420.31L226.19 420.31L226.31 420.44L226.81 420.44Z"/>
<path fill="#23092b" fill-rule="evenodd" d="M255.19 377.69L254.81 379.94L254.69 380.06L254.69 380.69L254.44 381.44L254.31 382.81L254.06 383.56L253.94 384.94L253.69 385.69L253.56 387.06L253.31 387.81L253.31 388.44L253.06 389.19L252.94 390.56L252.69 391.31L252.56 392.69L252.31 393.44L252.19 394.81L251.69 396.94L251.44 399.19L253.81 400.31L254.81 400.94L255.56 401.19L256.19 401.69L258.19 402.56L259.06 403.19L259.56 403.31L260.19 403.81L261.19 404.19L261.56 404.56L262.81 405.06L264.44 406.06L264.94 406.06L264.94 405.19L264.81 405.06L264.81 404.19L264.69 404.06L264.69 403.19L264.56 403.06L264.56 402.19L264.44 402.06L264.44 401.19L264.31 401.06L264.31 400.19L264.19 400.06L264.19 399.06L264.06 398.94L264.06 398.06L263.94 397.94L263.94 397.06L263.81 396.94L263.81 396.06L263.69 395.94L263.69 395.06L263.56 394.94L263.56 394.06L263.44 393.94L263.44 393.06L263.31 392.94L263.31 391.94L263.19 391.81L262.31 380.06L260.56 379.44L259.81 378.94L258.69 378.81L258.31 378.56L256.81 378.19L256.69 377.94L255.94 377.69Z"/>
<path fill="#26092d" fill-rule="evenodd" d="M252.31 377.06L251.31 377.06L251.19 377.19L251.19 377.69L251.31 377.81L251.31 388.44L251.44 388.56L251.44 398.06L251.31 398.19L251.31 399.06L251.81 399.06L251.94 398.81L252.06 397.44L252.31 396.69L252.31 396.06L252.56 395.31L252.56 394.69L252.69 394.56L253.06 391.81L253.31 391.06L253.44 389.69L253.69 388.94L253.69 388.31L253.94 387.56L254.06 386.19L254.31 385.44L254.44 384.06L254.69 383.31L254.81 381.94L254.94 381.81L255.44 378.44L255.56 378.31L255.56 377.56L254.19 377.56Z"/>
<path fill="#350d3f" fill-rule="evenodd" d="M251.69 377.31L251.19 377.31L247.56 384.81L247.56 385.06L246.31 387.44L246.31 387.69L245.06 390.06L245.06 390.31L243.94 392.44L243.94 392.69L242.69 395.06L242.69 395.56L242.81 395.69L242.81 398.69L251.81 399.19Z"/>
<path fill="#370d42" fill-rule="evenodd" d="M243.19 395.19L242.69 395.19L240.56 397.69L240.31 398.06L240.31 398.56L243.19 398.69Z"/>
<path fill="#784118" fill-rule="evenodd" d="M259.06 356.44L258.56 359.31L258.44 359.44L258.44 360.06L258.19 360.81L258.19 361.44L257.94 362.19L257.94 362.81L257.69 363.56L257.69 364.19L257.44 364.94L257.44 365.56L257.19 366.31L257.19 366.94L256.81 368.31L256.81 368.94L256.56 369.69L256.56 370.31L256.31 371.06L256.31 371.69L256.06 372.44L256.06 373.06L255.81 373.81L255.81 374.44L255.56 375.19L255.56 375.81L255.31 376.56L255.19 378.06L256.19 378.31L256.31 378.56L257.06 378.69L258.19 379.19L259.31 379.31L259.81 379.69L261.81 380.44L262.31 380.44L262.06 373.81L261.94 373.69L261.94 370.81L261.81 370.69L261.44 356.94L259.69 356.44Z"/>
<path fill="#7f451a" fill-rule="evenodd" d="M253.94 355.81L253.69 358.19L253.56 358.31L253.56 359.19L253.44 359.31L253.44 360.19L253.31 360.31L253.31 361.19L253.19 361.31L253.19 362.19L253.06 362.31L253.06 363.19L252.94 363.31L252.94 364.19L252.81 364.31L252.81 365.19L252.69 365.31L252.31 369.31L252.19 369.44L252.19 370.31L252.06 370.44L252.06 371.31L251.94 371.44L251.94 372.31L251.81 372.44L251.81 373.31L251.69 373.44L251.69 374.31L251.56 374.44L251.56 375.31L251.44 375.44L251.44 376.31L251.31 376.44L251.31 377.44L252.44 377.56L253.69 377.94L255.56 377.94L256.06 375.06L256.19 374.94L256.19 374.31L256.44 373.56L256.44 372.94L256.69 372.19L256.69 371.56L256.94 370.81L256.94 370.19L257.19 369.44L257.19 368.81L257.56 367.44L257.56 366.81L257.81 366.06L257.81 365.44L258.06 364.69L258.06 364.06L258.31 363.31L258.31 362.69L258.56 361.94L258.56 361.31L258.81 360.56L258.81 359.94L259.06 359.19L259.06 358.56L259.31 357.81L259.44 356.31L256.56 356.19L255.06 355.81Z"/>
<path fill="#0a0a5f" fill-rule="evenodd" d="M260.69 346.81L260.31 349.31L260.19 349.44L260.19 350.06L260.06 350.19L260.06 350.81L259.94 350.94L259.94 351.56L259.56 353.06L259.56 353.69L259.44 353.81L259.44 354.44L259.31 354.56L259.31 355.19L259.19 355.31L259.19 355.94L259.06 356.06L259.06 356.81L260.94 357.31L261.44 357.31L261.19 346.81Z"/>
<path fill="#0a0a65" fill-rule="evenodd" d="M256.69 334.44L256.19 338.56L256.06 338.69L256.06 339.56L255.94 339.69L255.94 340.56L255.81 340.69L255.81 341.56L255.69 341.69L255.69 342.56L255.44 343.56L255.19 346.44L254.94 347.44L254.56 351.31L254.31 352.31L253.94 356.19L254.56 356.19L256.06 356.56L259.44 356.69L259.69 355.69L259.69 355.06L259.81 354.94L259.81 354.31L259.94 354.19L259.94 353.56L260.06 353.44L260.06 352.81L260.31 352.06L260.94 347.69L261.19 347.19L261.31 334.81L261.19 334.69L259.94 334.69L259.81 334.56L258.56 334.56L258.44 334.44Z"/>
<path fill="#7c0808" fill-rule="evenodd" d="M259.44 312.81L259.31 314.06L259.19 314.19L259.19 315.06L259.06 315.19L259.06 316.06L258.94 316.19L258.94 317.06L258.81 317.19L258.81 318.06L258.69 318.19L258.69 319.06L258.44 320.06L258.44 320.94L258.31 321.06L258.31 321.94L258.19 322.06L258.19 322.94L258.06 323.06L258.06 323.94L257.94 324.06L257.94 324.94L257.81 325.06L257.81 325.94L257.69 326.06L257.69 326.94L257.44 327.94L257.44 328.81L257.31 328.94L256.69 334.81L257.94 334.81L258.06 334.94L259.31 334.94L259.44 335.06L261.31 335.19L261.56 312.94L261.44 312.81Z"/>
<path fill="#5b6e80" fill-rule="evenodd" d="M261.19 298.94L260.94 301.31L260.81 301.44L260.81 302.31L260.69 302.44L260.69 303.31L260.56 303.44L260.56 304.31L260.44 304.44L260.44 305.31L260.19 306.31L260.19 307.19L260.06 307.31L260.06 308.19L259.94 308.31L259.94 309.19L259.81 309.31L259.81 310.19L259.69 310.31L259.69 311.19L259.56 311.31L259.56 312.19L259.44 312.31L259.44 313.19L261.56 313.31L261.69 298.94Z"/>
<line x1="276.40" y1="468.76" x2="277.90" y2="468.76" stroke="#cfcfcf" stroke-width="0.5" />
<text x="279.00" y="470.34" font-size="4.4" text-anchor="start" font-weight="normal" fill="#2a2a2a" >0</text>
<line x1="277.01" y1="446.47" x2="278.51" y2="446.47" stroke="#cfcfcf" stroke-width="0.5" />
<text x="279.61" y="448.06" font-size="4.4" text-anchor="start" font-weight="normal" fill="#2a2a2a" >100</text>
<line x1="277.63" y1="423.97" x2="279.13" y2="423.97" stroke="#cfcfcf" stroke-width="0.5" />
<text x="280.23" y="425.55" font-size="4.4" text-anchor="start" font-weight="normal" fill="#2a2a2a" >200</text>
<line x1="278.25" y1="401.25" x2="279.75" y2="401.25" stroke="#cfcfcf" stroke-width="0.5" />
<text x="280.85" y="402.84" font-size="4.4" text-anchor="start" font-weight="normal" fill="#2a2a2a" >300</text>
<line x1="278.88" y1="378.31" x2="280.38" y2="378.31" stroke="#cfcfcf" stroke-width="0.5" />
<text x="281.48" y="379.90" font-size="4.4" text-anchor="start" font-weight="normal" fill="#2a2a2a" >400</text>
<line x1="279.51" y1="355.15" x2="281.01" y2="355.15" stroke="#cfcfcf" stroke-width="0.5" />
<text x="282.11" y="356.74" font-size="4.4" text-anchor="start" font-weight="normal" fill="#2a2a2a" >500</text>
<line x1="280.15" y1="331.77" x2="281.65" y2="331.77" stroke="#cfcfcf" stroke-width="0.5" />
<text x="282.75" y="333.35" font-size="4.4" text-anchor="start" font-weight="normal" fill="#2a2a2a" >600</text>
<line x1="280.80" y1="308.15" x2="282.30" y2="308.15" stroke="#cfcfcf" stroke-width="0.5" />
<text x="283.40" y="309.73" font-size="4.4" text-anchor="start" font-weight="normal" fill="#2a2a2a" >700</text>
<text x="275.60" y="475.85" font-size="3.6" text-anchor="middle" font-weight="normal" fill="#2a2a2a" >0</text>
<text x="266.84" y="476.08" font-size="3.6" text-anchor="middle" font-weight="normal" fill="#2a2a2a" >1</text>
<text x="258.08" y="476.30" font-size="3.6" text-anchor="middle" font-weight="normal" fill="#2a2a2a" >2</text>
<text x="249.30" y="476.53" font-size="3.6" text-anchor="middle" font-weight="normal" fill="#2a2a2a" >3</text>
<text x="240.51" y="476.76" font-size="3.6" text-anchor="middle" font-weight="normal" fill="#2a2a2a" >4</text>
<text x="231.70" y="476.99" font-size="3.6" text-anchor="middle" font-weight="normal" fill="#2a2a2a" >5</text>
<text x="222.89" y="477.22" font-size="3.6" text-anchor="middle" font-weight="normal" fill="#2a2a2a" >6</text>
<text x="214.07" y="477.45" font-size="3.6" text-anchor="middle" font-weight="normal" fill="#2a2a2a" >7</text>
<text x="205.23" y="477.68" font-size="3.6" text-anchor="middle" font-weight="normal" fill="#2a2a2a" >8</text>
<text x="196.39" y="477.91" font-size="3.6" text-anchor="middle" font-weight="normal" fill="#2a2a2a" >9</text>
<text x="187.53" y="478.14" font-size="3.6" text-anchor="middle" font-weight="normal" fill="#2a2a2a" >10</text>
<text x="178.66" y="478.37" font-size="3.6" text-anchor="middle" font-weight="normal" fill="#2a2a2a" >11</text>
<text x="169.78" y="478.60" font-size="3.6" text-anchor="middle" font-weight="normal" fill="#2a2a2a" >12</text>
<text x="160.89" y="478.83" font-size="3.6" text-anchor="middle" font-weight="normal" fill="#2a2a2a" >13</text>
<text x="151.99" y="479.06" font-size="3.6" text-anchor="middle" font-weight="normal" fill="#2a2a2a" >14</text>
<text x="143.08" y="479.29" font-size="3.6" text-anchor="middle" font-weight="normal" fill="#2a2a2a" >15</text>
<text x="134.15" y="479.52" font-size="3.6" text-anchor="middle" font-weight="normal" fill="#2a2a2a" >16</text>
<text x="125.22" y="479.75" font-size="3.6" text-anchor="middle" font-weight="normal" fill="#2a2a2a" >17</text>
<text x="116.27" y="479.99" font-size="3.6" text-anchor="middle" font-weight="normal" fill="#2a2a2a" >18</text>
<text x="107.32" y="480.22" font-size="3.6" text-anchor="middle" font-weight="normal" fill="#2a2a2a" >19</text>
<text x="98.35" y="480.45" font-size="3.6" text-anchor="middle" font-weight="normal" fill="#2a2a2a" >20</text>
<text x="89.37" y="480.68" font-size="3.6" text-anchor="middle" font-weight="normal" fill="#2a2a2a" >21</text>
<text x="80.38" y="480.92" font-size="3.6" text-anchor="middle" font-weight="normal" fill="#2a2a2a" >22</text>
<text x="71.37" y="481.15" font-size="3.6" text-anchor="middle" font-weight="normal" fill="#2a2a2a" >23</text>
<text x="62.36" y="481.39" font-size="3.6" text-anchor="middle" font-weight="normal" fill="#2a2a2a" >24</text>
<text x="53.33" y="481.62" font-size="3.6" text-anchor="middle" font-weight="normal" fill="#2a2a2a" >25</text>
<text x="44.30" y="481.85" font-size="3.6" text-anchor="middle" font-weight="normal" fill="#2a2a2a" >26</text>
<text x="35.25" y="482.09" font-size="3.6" text-anchor="middle" font-weight="normal" fill="#2a2a2a" >27</text>
<text x="26.19" y="482.32" font-size="3.6" text-anchor="middle" font-weight="normal" fill="#2a2a2a" >28</text>
<line x1="28.90" y1="444.83" x2="27.60" y2="444.83" stroke="#cfcfcf" stroke-width="0.5" />
<text x="26.90" y="446.03" font-size="3.4" text-anchor="end" font-weight="normal" fill="#2a2a2a" >0</text>
<line x1="28.77" y1="446.84" x2="27.47" y2="446.84" stroke="#cfcfcf" stroke-width="0.5" />
<text x="26.77" y="448.04" font-size="3.4" text-anchor="end" font-weight="normal" fill="#2a2a2a" >2</text>
<line x1="28.64" y1="448.87" x2="27.34" y2="448.87" stroke="#cfcfcf" stroke-width="0.5" />
<text x="26.64" y="450.07" font-size="3.4" text-anchor="end" font-weight="normal" fill="#2a2a2a" >4</text>
<line x1="28.51" y1="450.92" x2="27.21" y2="450.92" stroke="#cfcfcf" stroke-width="0.5" />
<text x="26.51" y="452.12" font-size="3.4" text-anchor="end" font-weight="normal" fill="#2a2a2a" >6</text>
<line x1="28.38" y1="453.00" x2="27.08" y2="453.00" stroke="#cfcfcf" stroke-width="0.5" />
<text x="26.38" y="454.20" font-size="3.4" text-anchor="end" font-weight="normal" fill="#2a2a2a" >8</text>
<line x1="28.25" y1="455.10" x2="26.95" y2="455.10" stroke="#cfcfcf" stroke-width="0.5" />
<text x="26.25" y="456.30" font-size="3.4" text-anchor="end" font-weight="normal" fill="#2a2a2a" >10</text>
<line x1="28.12" y1="457.23" x2="26.82" y2="457.23" stroke="#cfcfcf" stroke-width="0.5" />
<text x="26.12" y="458.43" font-size="3.4" text-anchor="end" font-weight="normal" fill="#2a2a2a" >12</text>
<line x1="27.98" y1="459.39" x2="26.68" y2="459.39" stroke="#cfcfcf" stroke-width="0.5" />
<text x="25.98" y="460.59" font-size="3.4" text-anchor="end" font-weight="normal" fill="#2a2a2a" >14</text>
<line x1="27.84" y1="461.57" x2="26.54" y2="461.57" stroke="#cfcfcf" stroke-width="0.5" />
<text x="25.84" y="462.77" font-size="3.4" text-anchor="end" font-weight="normal" fill="#2a2a2a" >16</text>
<line x1="27.71" y1="463.77" x2="26.41" y2="463.77" stroke="#cfcfcf" stroke-width="0.5" />
<text x="25.71" y="464.97" font-size="3.4" text-anchor="end" font-weight="normal" fill="#2a2a2a" >18</text>
<line x1="27.57" y1="466.01" x2="26.27" y2="466.01" stroke="#cfcfcf" stroke-width="0.5" />
<text x="25.57" y="467.21" font-size="3.4" text-anchor="end" font-weight="normal" fill="#2a2a2a" >20</text>
<line x1="27.42" y1="468.27" x2="26.12" y2="468.27" stroke="#cfcfcf" stroke-width="0.5" />
<text x="25.42" y="469.47" font-size="3.4" text-anchor="end" font-weight="normal" fill="#2a2a2a" >22</text>
<line x1="27.28" y1="470.56" x2="25.98" y2="470.56" stroke="#cfcfcf" stroke-width="0.5" />
<text x="25.28" y="471.76" font-size="3.4" text-anchor="end" font-weight="normal" fill="#2a2a2a" >24</text>
<line x1="27.13" y1="472.89" x2="25.83" y2="472.89" stroke="#cfcfcf" stroke-width="0.5" />
<text x="25.13" y="474.09" font-size="3.4" text-anchor="end" font-weight="normal" fill="#2a2a2a" >26</text>
<line x1="26.99" y1="475.24" x2="25.69" y2="475.24" stroke="#cfcfcf" stroke-width="0.5" />
<text x="24.99" y="476.44" font-size="3.4" text-anchor="end" font-weight="normal" fill="#2a2a2a" >28</text>
<text x="0.20" y="290.00" font-size="20.5" text-anchor="start" font-weight="bold" fill="#000" >c</text>
<text x="139.50" y="285.80" font-size="9.3" text-anchor="start" font-weight="bold" fill="#111" textLength="48.70" lengthAdjust="spacingAndGlyphs" >DAS28 = 5.1</text>
<text x="319.00" y="307.30" font-size="8.4" text-anchor="start" font-weight="normal" fill="#2b2b2b" textLength="13.40" lengthAdjust="spacingAndGlyphs" >ESR</text>
<text x="140.50" y="494.00" font-size="8.4" text-anchor="start" font-weight="normal" fill="#2b2b2b" textLength="12.00" lengthAdjust="spacingAndGlyphs" >SJC</text>
<text x="1.30" y="454.00" font-size="8.4" text-anchor="start" font-weight="normal" fill="#2b2b2b" textLength="11.20" lengthAdjust="spacingAndGlyphs" >TJC</text>
<rect x="291.50" y="345.80" width="3.40" height="3.40" fill="rgb(150,180,205)"/>
<text x="296.60" y="349.76" font-size="6.3" text-anchor="start" font-weight="normal" fill="#333" >600-700</text>
<rect x="291.50" y="357.10" width="3.40" height="3.40" fill="rgb(190,8,8)"/>
<text x="296.60" y="361.06" font-size="6.3" text-anchor="start" font-weight="normal" fill="#333" >500-600</text>
<rect x="291.50" y="368.90" width="3.40" height="3.40" fill="rgb(12,12,150)"/>
<text x="296.60" y="372.86" font-size="6.3" text-anchor="start" font-weight="normal" fill="#333" >400-500</text>
<rect x="291.50" y="380.50" width="3.40" height="3.40" fill="rgb(200,110,45)"/>
<text x="296.60" y="384.46" font-size="6.3" text-anchor="start" font-weight="normal" fill="#333" >300-400</text>
<rect x="291.50" y="392.50" width="3.40" height="3.40" fill="rgb(48,10,58)"/>
<text x="296.60" y="396.46" font-size="6.3" text-anchor="start" font-weight="normal" fill="#333" >200-300</text>
<rect x="291.50" y="404.10" width="3.40" height="3.40" fill="rgb(228,226,36)"/>
<text x="296.60" y="408.06" font-size="6.3" text-anchor="start" font-weight="normal" fill="#333" >100-200</text>
<rect x="291.50" y="415.70" width="3.40" height="3.40" fill="rgb(74,124,180)"/>
<text x="296.60" y="419.66" font-size="6.3" text-anchor="start" font-weight="normal" fill="#333" >0-100</text>
</svg></body></html>
